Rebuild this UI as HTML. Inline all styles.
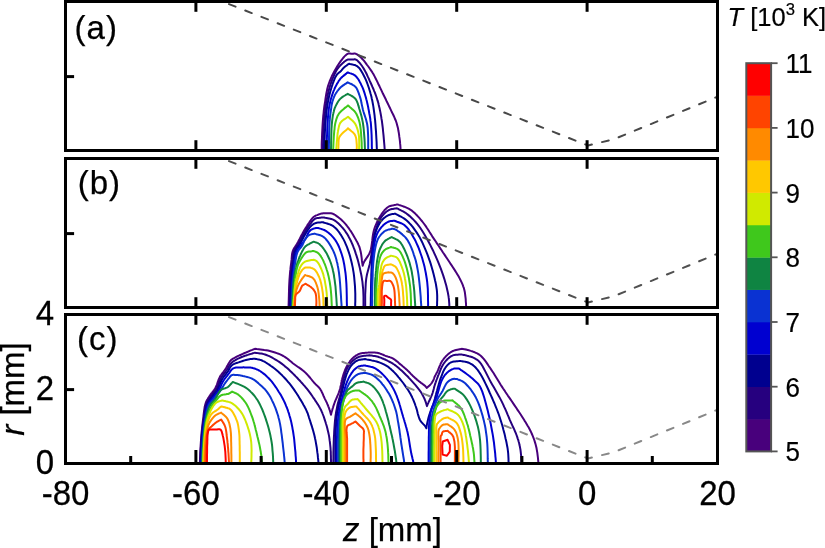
<!DOCTYPE html>
<html><head><meta charset="utf-8"><style>html,body{margin:0;padding:0;background:#fff;width:825px;height:548px;overflow:hidden}svg{display:block}</style></head>
<body>
<svg width="825" height="548" viewBox="0 0 825 548">
<defs>
<clipPath id="cp0"><rect x="65.5" y="1.5" width="652.0" height="149.0"/></clipPath>
<clipPath id="cp1"><rect x="65.5" y="158.5" width="652.0" height="149.0"/></clipPath>
<clipPath id="cp2"><rect x="65.5" y="314.5" width="652.0" height="149.0"/></clipPath>
</defs>
<rect width="825" height="548" fill="#fff"/>
<g clip-path="url(#cp0)" fill="none" stroke-width="2" stroke-linejoin="round">
<path stroke="#48007c" d="M321.6,153.5 L400.6,153.5 L400.6,154.7 L400.6,154.2 L400.6,153.6 L400.6,153.1 L400.6,152.5 L400.6,151.9 L400.6,151.2 L400.6,150.5 L400.5,149.3 L400.5,147.9 L400.4,146.5 L400.3,145.0 L400.1,143.4 L400.0,141.8 L399.8,140.2 L399.6,138.6 L399.3,136.7 L399.1,134.8 L398.8,132.8 L398.4,130.8 L398.1,128.8 L397.6,126.8 L397.1,124.9 L396.6,123.0 L396.0,121.2 L395.3,119.5 L394.6,117.8 L393.9,116.2 L393.1,114.5 L392.2,112.8 L391.4,111.1 L390.6,109.4 L389.7,107.5 L388.8,105.6 L387.9,103.7 L386.9,101.8 L386.0,99.8 L385.0,97.8 L384.0,95.8 L383.0,93.8 L381.9,91.4 L380.7,88.9 L379.5,86.3 L378.2,83.7 L377.0,81.1 L375.8,78.7 L374.6,76.4 L373.5,74.3 L372.7,73.0 L372.0,71.8 L371.2,70.7 L370.5,69.6 L369.7,68.5 L369.0,67.5 L368.3,66.5 L367.5,65.5 L366.8,64.6 L366.1,63.6 L365.4,62.7 L364.8,61.8 L364.1,60.9 L363.4,60.1 L362.6,59.3 L361.9,58.5 L361.2,57.8 L360.4,57.1 L359.7,56.4 L358.9,55.7 L358.1,55.1 L357.4,54.6 L356.6,54.1 L355.9,53.8 L355.4,53.7 L354.9,53.6 L354.4,53.6 L353.9,53.6 L353.4,53.7 L353.0,53.7 L352.5,53.8 L352.0,53.8 L351.5,53.8 L350.9,53.7 L350.4,53.6 L349.9,53.5 L349.4,53.5 L348.8,53.5 L348.3,53.6 L347.7,53.8 L346.6,54.4 L345.5,55.4 L344.3,56.6 L343.1,58.0 L341.9,59.6 L340.7,61.2 L339.5,62.9 L338.4,64.5 L337.1,66.6 L335.7,68.9 L334.4,71.3 L333.1,73.8 L331.8,76.3 L330.7,78.9 L329.6,81.5 L328.7,84.0 L327.9,86.4 L327.3,88.8 L326.8,91.2 L326.3,93.7 L325.9,96.1 L325.5,98.6 L325.2,101.1 L324.8,103.5 L324.4,105.9 L324.1,108.3 L323.8,110.7 L323.6,113.0 L323.3,115.4 L323.1,117.9 L322.9,120.4 L322.7,123.0 L322.5,126.4 L322.3,130.1 L322.1,134.0 L322.0,137.9 L321.8,141.6 L321.7,145.1 L321.7,148.1 L321.6,150.5 L321.6,151.3 L321.6,152.0 L321.6,152.6 L321.6,153.2 L321.6,153.7 L321.6,154.2 L321.6,154.8 L321.6,153.5Z"/>
<path stroke="#26007f" d="M322.9,153.5 L384.7,153.5 L384.7,154.5 L384.7,154.0 L384.7,153.5 L384.7,153.0 L384.7,152.5 L384.7,151.9 L384.7,151.2 L384.7,150.5 L384.6,148.3 L384.4,145.5 L384.1,142.2 L383.8,138.7 L383.5,135.1 L383.1,131.5 L382.8,128.1 L382.4,125.0 L382.1,122.7 L381.8,120.4 L381.4,118.2 L381.1,116.1 L380.7,114.0 L380.3,111.9 L379.9,110.0 L379.5,108.0 L379.1,106.4 L378.7,104.8 L378.4,103.3 L378.0,101.9 L377.5,100.4 L377.1,99.0 L376.6,97.5 L376.1,96.0 L375.5,94.4 L374.9,92.7 L374.2,91.1 L373.6,89.5 L372.8,87.8 L372.1,86.2 L371.4,84.5 L370.6,82.8 L369.7,80.9 L368.9,78.9 L367.9,76.9 L367.0,74.8 L366.0,72.8 L365.0,70.9 L364.0,69.1 L363.0,67.5 L362.2,66.3 L361.3,65.0 L360.4,63.8 L359.5,62.7 L358.5,61.7 L357.6,60.8 L356.8,60.1 L355.9,59.6 L355.4,59.4 L354.9,59.3 L354.4,59.3 L353.9,59.4 L353.4,59.4 L353.0,59.5 L352.5,59.6 L352.0,59.6 L351.5,59.6 L350.9,59.5 L350.4,59.5 L349.9,59.4 L349.3,59.4 L348.8,59.4 L348.2,59.5 L347.7,59.6 L347.0,59.9 L346.3,60.3 L345.6,60.7 L344.9,61.3 L344.2,61.8 L343.5,62.5 L342.8,63.1 L342.1,63.7 L341.4,64.4 L340.7,65.0 L340.1,65.7 L339.4,66.4 L338.8,67.2 L338.1,68.0 L337.5,68.8 L336.9,69.8 L336.0,71.3 L335.1,73.0 L334.2,74.9 L333.4,76.8 L332.5,78.8 L331.7,80.9 L331.0,83.0 L330.3,85.0 L329.6,87.2 L329.0,89.4 L328.4,91.7 L327.9,94.1 L327.5,96.4 L327.0,98.8 L326.6,101.1 L326.2,103.5 L325.8,105.9 L325.5,108.2 L325.2,110.6 L325.0,113.0 L324.7,115.4 L324.5,117.9 L324.3,120.4 L324.1,123.0 L323.9,126.4 L323.7,130.1 L323.5,134.0 L323.3,137.9 L323.2,141.7 L323.0,145.1 L323.0,148.1 L322.9,150.5 L322.9,151.3 L322.9,151.9 L322.9,152.5 L322.9,153.0 L322.9,153.5 L322.9,154.0 L322.9,154.5 L322.9,153.5Z"/>
<path stroke="#00008f" d="M324.2,153.5 L376.9,153.5 L376.9,154.3 L376.9,153.8 L376.9,153.4 L376.9,152.9 L376.9,152.4 L376.9,151.8 L376.9,151.2 L376.9,150.5 L376.8,148.3 L376.7,145.5 L376.6,142.3 L376.4,138.8 L376.2,135.2 L376.0,131.6 L375.7,128.1 L375.5,125.0 L375.3,122.6 L375.1,120.2 L374.8,117.8 L374.6,115.6 L374.3,113.3 L374.0,111.1 L373.7,109.0 L373.4,106.9 L373.1,105.2 L372.8,103.5 L372.5,101.9 L372.2,100.3 L371.8,98.7 L371.5,97.1 L371.1,95.5 L370.6,93.8 L370.1,91.9 L369.5,90.0 L368.9,88.0 L368.2,86.0 L367.5,84.0 L366.8,82.1 L366.0,80.2 L365.2,78.4 L364.4,76.7 L363.5,75.0 L362.6,73.3 L361.7,71.7 L360.7,70.1 L359.7,68.7 L358.6,67.4 L357.5,66.4 L356.5,65.8 L355.5,65.3 L354.5,64.9 L353.4,64.7 L352.3,64.4 L351.2,64.2 L350.1,64.0 L349.0,63.7 L348.4,64.2 L347.7,64.6 L347.1,65.1 L346.4,65.6 L345.8,66.0 L345.2,66.5 L344.6,67.0 L344.0,67.5 L343.5,68.0 L343.1,68.4 L342.7,68.9 L342.3,69.4 L341.9,69.9 L341.5,70.4 L341.1,70.8 L340.7,71.3 L340.2,71.7 L339.8,72.1 L339.3,72.4 L338.8,72.8 L338.3,73.2 L337.8,73.6 L337.4,74.0 L336.9,74.6 L336.2,75.7 L335.5,76.9 L334.8,78.3 L334.2,79.9 L333.6,81.5 L332.9,83.1 L332.4,84.8 L331.8,86.5 L331.2,88.5 L330.6,90.6 L330.0,92.7 L329.4,95.0 L328.9,97.2 L328.5,99.5 L328.0,101.7 L327.6,104.0 L327.2,106.3 L326.9,108.6 L326.6,110.9 L326.4,113.2 L326.1,115.6 L325.9,118.0 L325.7,120.4 L325.5,123.0 L325.3,126.4 L325.0,130.1 L324.8,134.0 L324.7,137.9 L324.5,141.7 L324.4,145.2 L324.3,148.2 L324.2,150.5 L324.2,151.2 L324.2,151.8 L324.2,152.4 L324.2,152.9 L324.2,153.4 L324.2,153.8 L324.2,154.3 L324.2,153.5Z"/>
<path stroke="#0000d0" d="M326.6,153.5 L371.9,153.5 L371.9,153.9 L371.9,153.5 L371.9,153.1 L371.9,152.7 L371.9,152.2 L371.9,151.7 L371.9,151.2 L371.9,150.5 L371.9,148.3 L371.8,145.5 L371.8,142.3 L371.7,138.7 L371.6,135.0 L371.4,131.4 L371.2,128.0 L371.0,125.0 L370.8,122.9 L370.5,120.9 L370.3,119.0 L370.0,117.1 L369.7,115.3 L369.3,113.5 L369.0,111.7 L368.7,110.0 L368.4,108.6 L368.2,107.2 L367.9,105.9 L367.6,104.5 L367.3,103.2 L367.0,101.9 L366.7,100.6 L366.3,99.2 L365.9,97.6 L365.4,96.0 L364.9,94.3 L364.4,92.6 L363.8,90.9 L363.2,89.2 L362.6,87.6 L361.9,86.1 L361.2,84.7 L360.5,83.2 L359.7,81.8 L358.9,80.3 L358.1,79.0 L357.2,77.8 L356.3,76.7 L355.3,75.7 L354.4,75.1 L353.5,74.5 L352.6,74.1 L351.6,73.8 L350.6,73.4 L349.6,73.1 L348.7,72.8 L347.7,72.4 L346.8,73.1 L345.9,73.9 L345.0,74.6 L344.0,75.4 L343.1,76.1 L342.3,76.9 L341.4,77.6 L340.7,78.4 L340.1,79.1 L339.6,79.8 L339.1,80.4 L338.6,81.1 L338.2,81.9 L337.8,82.6 L337.3,83.3 L336.9,84.1 L336.4,85.0 L335.9,85.9 L335.4,86.8 L335.0,87.8 L334.5,88.8 L334.1,89.8 L333.6,90.9 L333.2,92.0 L332.7,93.4 L332.2,94.9 L331.7,96.5 L331.2,98.1 L330.7,99.8 L330.3,101.5 L329.9,103.2 L329.5,105.0 L329.1,107.1 L328.8,109.2 L328.6,111.3 L328.3,113.6 L328.1,115.8 L327.9,118.2 L327.8,120.5 L327.6,123.0 L327.4,126.3 L327.2,130.0 L327.1,134.0 L326.9,137.9 L326.8,141.8 L326.7,145.2 L326.6,148.2 L326.6,150.5 L326.6,151.2 L326.6,151.7 L326.6,152.2 L326.6,152.7 L326.6,153.1 L326.6,153.5 L326.6,153.9 L326.6,153.5Z"/>
<path stroke="#0a32d2" d="M328.9,153.5 L368.2,153.5 L368.2,153.5 L368.2,153.1 L368.2,152.8 L368.2,152.4 L368.2,152.0 L368.2,151.6 L368.2,151.1 L368.2,150.5 L368.2,148.4 L368.2,145.6 L368.2,142.4 L368.2,138.8 L368.1,135.1 L367.9,131.4 L367.7,128.0 L367.3,125.0 L366.9,122.9 L366.4,120.9 L365.9,119.0 L365.3,117.2 L364.7,115.4 L364.1,113.6 L363.5,111.8 L363.0,110.0 L362.6,108.2 L362.2,106.4 L361.8,104.6 L361.4,102.8 L361.1,101.0 L360.7,99.3 L360.2,97.6 L359.7,96.0 L359.2,94.7 L358.8,93.4 L358.3,92.1 L357.8,90.9 L357.3,89.7 L356.7,88.6 L356.1,87.6 L355.3,86.7 L354.5,86.0 L353.6,85.3 L352.7,84.8 L351.7,84.2 L350.7,83.8 L349.7,83.3 L348.7,82.8 L347.7,82.3 L346.8,82.9 L345.9,83.6 L344.9,84.2 L344.0,84.8 L343.1,85.4 L342.2,86.1 L341.3,86.8 L340.5,87.5 L339.8,88.2 L339.1,89.0 L338.4,89.8 L337.8,90.6 L337.1,91.4 L336.6,92.3 L336.0,93.1 L335.5,94.0 L335.0,94.8 L334.6,95.7 L334.2,96.5 L333.9,97.4 L333.5,98.3 L333.2,99.2 L332.9,100.1 L332.6,101.0 L332.3,102.0 L332.1,103.1 L331.8,104.2 L331.6,105.3 L331.4,106.4 L331.3,107.6 L331.1,108.8 L330.9,110.0 L330.7,111.5 L330.5,113.0 L330.3,114.5 L330.1,116.0 L329.9,117.7 L329.8,119.4 L329.6,121.1 L329.5,123.0 L329.3,126.1 L329.2,129.8 L329.1,133.7 L329.0,137.8 L329.0,141.7 L328.9,145.2 L328.9,148.3 L328.9,150.5 L328.9,151.1 L328.9,151.6 L328.9,152.0 L328.9,152.4 L328.9,152.8 L328.9,153.1 L328.9,153.5 L328.9,153.5Z"/>
<path stroke="#0f8442" d="M331.0,153.5 L365.0,153.5 L365.0,153.0 L365.0,152.7 L365.0,152.4 L365.0,152.1 L365.0,151.8 L365.0,151.4 L365.0,151.0 L365.0,150.5 L364.9,148.5 L364.8,145.8 L364.7,142.5 L364.5,138.9 L364.2,135.2 L363.9,131.5 L363.6,128.0 L363.2,125.0 L362.9,122.9 L362.5,120.9 L362.1,119.0 L361.7,117.1 L361.2,115.3 L360.7,113.5 L360.2,111.7 L359.7,110.0 L359.2,108.5 L358.8,106.9 L358.3,105.4 L357.9,103.9 L357.3,102.4 L356.8,101.1 L356.1,99.8 L355.3,98.7 L354.5,97.9 L353.6,97.2 L352.7,96.5 L351.7,96.0 L350.7,95.4 L349.7,94.9 L348.7,94.4 L347.7,93.8 L346.8,94.4 L345.8,94.9 L344.9,95.5 L344.0,96.0 L343.0,96.6 L342.1,97.2 L341.3,97.9 L340.5,98.6 L339.7,99.4 L339.0,100.3 L338.3,101.3 L337.7,102.3 L337.1,103.3 L336.5,104.4 L336.0,105.4 L335.5,106.4 L335.1,107.3 L334.7,108.2 L334.4,109.1 L334.1,110.1 L333.9,111.0 L333.7,112.0 L333.4,113.0 L333.2,114.0 L332.9,115.3 L332.7,116.7 L332.5,118.1 L332.3,119.6 L332.1,121.1 L332.0,122.6 L331.8,124.3 L331.7,126.0 L331.5,128.8 L331.4,132.1 L331.3,135.6 L331.2,139.2 L331.1,142.7 L331.1,145.9 L331.0,148.5 L331.0,150.5 L331.0,151.0 L331.0,151.4 L331.0,151.8 L331.0,152.1 L331.0,152.4 L331.0,152.7 L331.0,153.0 L331.0,153.5Z"/>
<path stroke="#3fc81c" d="M333.2,153.5 L361.8,153.5 L361.8,152.5 L361.8,152.2 L361.8,152.0 L361.8,151.7 L361.8,151.5 L361.8,151.2 L361.8,150.9 L361.8,150.5 L361.8,149.6 L361.8,148.5 L361.8,147.2 L361.7,145.9 L361.7,144.5 L361.7,143.0 L361.6,141.5 L361.5,140.0 L361.4,138.0 L361.2,135.9 L361.1,133.8 L360.9,131.5 L360.7,129.3 L360.4,127.1 L360.1,125.0 L359.7,123.1 L359.3,121.6 L358.9,120.2 L358.5,118.9 L358.0,117.5 L357.5,116.3 L356.9,115.0 L356.3,113.8 L355.6,112.7 L354.8,111.7 L354.0,110.7 L353.0,109.8 L352.0,108.9 L351.0,108.0 L350.0,107.2 L349.0,106.3 L348.0,105.4 L346.8,106.4 L345.6,107.4 L344.3,108.4 L343.1,109.5 L341.9,110.5 L340.8,111.5 L339.8,112.6 L338.9,113.7 L338.3,114.7 L337.7,115.7 L337.3,116.7 L336.9,117.7 L336.5,118.8 L336.2,119.8 L335.9,120.9 L335.6,122.0 L335.3,123.2 L335.1,124.3 L334.9,125.5 L334.7,126.7 L334.6,128.0 L334.5,129.3 L334.3,130.6 L334.2,132.0 L334.0,134.2 L333.8,136.6 L333.7,139.3 L333.5,142.0 L333.4,144.6 L333.3,147.0 L333.2,149.0 L333.2,150.5 L333.2,150.9 L333.2,151.2 L333.2,151.5 L333.2,151.8 L333.2,152.0 L333.2,152.2 L333.2,152.5 L333.2,153.5Z"/>
<path stroke="#d0ea00" d="M336.2,153.5 L359.1,153.5 L359.1,152.0 L359.1,151.8 L359.1,151.6 L359.1,151.4 L359.1,151.3 L359.1,151.0 L359.1,150.8 L359.1,150.5 L359.1,149.3 L359.1,147.6 L359.2,145.5 L359.2,143.3 L359.2,141.0 L359.1,138.6 L359.0,136.4 L358.7,134.5 L358.4,133.0 L358.1,131.5 L357.7,130.1 L357.3,128.7 L356.8,127.3 L356.3,126.0 L355.7,124.8 L355.0,123.6 L354.3,122.6 L353.5,121.7 L352.6,120.8 L351.7,120.0 L350.8,119.2 L349.8,118.4 L348.9,117.6 L348.0,116.8 L347.0,117.5 L346.0,118.2 L345.0,118.9 L343.9,119.5 L342.9,120.2 L342.0,121.0 L341.2,121.8 L340.5,122.6 L340.0,123.4 L339.6,124.3 L339.3,125.2 L339.0,126.1 L338.8,127.1 L338.6,128.1 L338.4,129.0 L338.2,130.0 L338.0,131.0 L337.9,131.9 L337.7,132.9 L337.6,133.9 L337.5,134.8 L337.4,135.9 L337.3,136.9 L337.2,138.0 L337.1,139.5 L336.9,141.2 L336.7,143.0 L336.6,144.8 L336.5,146.5 L336.3,148.1 L336.3,149.5 L336.2,150.5 L336.2,150.8 L336.2,151.0 L336.2,151.2 L336.2,151.4 L336.2,151.6 L336.2,151.8 L336.2,152.0 L336.2,153.5Z"/>
<path stroke="#ffc800" d="M338.3,153.5 L356.6,153.5 L356.6,151.5 L356.6,151.4 L356.6,151.2 L356.6,151.1 L356.6,151.0 L356.6,150.8 L356.6,150.7 L356.6,150.5 L356.6,150.0 L356.7,149.5 L356.7,148.8 L356.8,148.1 L356.8,147.4 L356.8,146.6 L356.8,145.8 L356.8,145.0 L356.7,143.9 L356.6,142.6 L356.5,141.3 L356.4,140.0 L356.2,138.6 L355.9,137.3 L355.5,136.1 L355.0,135.0 L354.4,134.0 L353.6,133.1 L352.8,132.3 L351.8,131.5 L350.9,130.7 L349.9,129.9 L348.9,129.1 L348.0,128.3 L346.9,129.4 L345.7,130.5 L344.4,131.5 L343.2,132.6 L342.0,133.7 L341.0,134.8 L340.1,135.9 L339.4,137.1 L339.0,138.1 L338.8,139.1 L338.6,140.1 L338.6,141.1 L338.5,142.1 L338.5,143.1 L338.5,144.1 L338.5,145.0 L338.4,145.8 L338.4,146.5 L338.4,147.3 L338.4,148.1 L338.3,148.8 L338.3,149.4 L338.3,150.0 L338.3,150.5 L338.3,150.7 L338.3,150.8 L338.3,151.0 L338.3,151.1 L338.3,151.2 L338.3,151.4 L338.3,151.5 L338.3,153.5Z"/>
</g>
<g clip-path="url(#cp1)" fill="none" stroke-width="2" stroke-linejoin="round">
<path stroke="#48007c" d="M367.0,310.5 L367.0,311.6 L367.0,311.1 L367.0,310.6 L367.0,310.5 L466.2,310.5 L466.2,312.0 L466.2,311.4 L466.2,310.9 L466.2,310.3 L466.3,309.7 L466.3,309.0 L466.2,308.3 L466.2,307.5 L466.1,305.8 L466.0,303.7 L465.8,301.5 L465.7,299.1 L465.4,296.6 L465.1,294.2 L464.8,291.9 L464.3,289.8 L463.9,288.2 L463.3,286.6 L462.8,285.1 L462.2,283.7 L461.5,282.2 L460.9,280.9 L460.2,279.5 L459.5,278.1 L458.8,276.8 L458.1,275.6 L457.4,274.4 L456.7,273.2 L455.9,272.0 L455.2,270.9 L454.4,269.6 L453.6,268.4 L452.7,267.0 L451.8,265.6 L450.8,264.2 L449.9,262.7 L448.9,261.2 L447.9,259.7 L446.9,258.2 L445.8,256.6 L444.5,254.6 L443.0,252.5 L441.6,250.3 L440.1,248.1 L438.6,245.8 L437.1,243.6 L435.6,241.3 L434.1,239.1 L432.6,236.9 L431.2,234.6 L429.7,232.3 L428.3,230.0 L426.8,227.8 L425.4,225.6 L423.8,223.5 L422.3,221.5 L420.9,219.8 L419.5,218.2 L418.1,216.6 L416.6,215.0 L415.2,213.6 L413.7,212.2 L412.2,210.9 L410.6,209.8 L409.1,208.9 L407.5,208.1 L405.9,207.4 L404.2,206.7 L402.6,206.1 L401.2,205.6 L399.9,205.2 L398.9,204.9 L398.6,204.8 L398.3,204.7 L398.1,204.7 L397.9,204.6 L397.6,204.6 L397.4,204.5 L397.2,204.5 L397.0,204.4 L395.9,204.7 L394.7,204.9 L393.6,205.2 L392.4,205.4 L391.3,205.7 L390.2,206.0 L389.1,206.4 L388.1,207.0 L387.0,207.8 L386.0,208.7 L384.9,209.7 L384.0,210.9 L383.0,212.1 L382.1,213.3 L381.3,214.6 L380.4,215.9 L379.5,217.4 L378.5,219.0 L377.7,220.7 L376.9,222.5 L376.1,224.3 L375.3,226.1 L374.6,228.0 L374.0,230.0 L373.4,232.5 L372.9,235.2 L372.5,238.0 L372.2,240.9 L371.8,243.8 L371.4,246.6 L370.9,249.3 L370.2,251.7 L369.4,253.5 L368.5,255.1 L367.5,256.6 L366.5,258.1 L365.5,259.6 L364.5,261.1 L363.7,262.7 L363.0,264.5 L362.7,265.8 L362.5,264.7 L362.2,262.6 L361.9,260.4 L361.7,258.2 L361.4,256.0 L361.1,253.9 L360.7,251.8 L360.2,249.8 L359.7,247.9 L359.2,246.4 L358.5,244.9 L357.9,243.5 L357.2,242.1 L356.4,240.7 L355.7,239.4 L354.9,238.1 L354.1,236.7 L353.3,235.3 L352.4,233.8 L351.5,232.3 L350.6,230.9 L349.6,229.5 L348.7,228.1 L347.7,226.8 L346.7,225.5 L345.8,224.4 L344.9,223.4 L344.0,222.4 L343.0,221.4 L342.1,220.5 L341.1,219.6 L340.2,218.8 L339.2,218.0 L338.3,217.3 L337.4,216.6 L336.4,215.9 L335.5,215.2 L334.5,214.7 L333.6,214.1 L332.7,213.7 L331.8,213.4 L331.2,213.3 L330.6,213.2 L330.0,213.2 L329.4,213.2 L328.8,213.2 L328.2,213.3 L327.6,213.3 L327.0,213.3 L326.4,213.3 L325.9,213.3 L325.3,213.3 L324.7,213.3 L324.1,213.3 L323.6,213.3 L323.0,213.3 L322.5,213.4 L322.1,213.5 L321.6,213.5 L321.2,213.6 L320.8,213.7 L320.4,213.9 L320.0,214.0 L319.6,214.1 L319.1,214.3 L318.5,214.5 L317.8,214.8 L317.1,215.1 L316.3,215.4 L315.6,215.7 L314.9,216.1 L314.2,216.5 L313.6,217.0 L313.0,217.5 L312.4,218.1 L311.8,218.8 L311.3,219.5 L310.8,220.2 L310.3,221.0 L309.7,221.7 L309.2,222.5 L308.5,223.5 L307.8,224.5 L307.2,225.6 L306.5,226.7 L305.8,227.8 L305.1,228.9 L304.4,230.1 L303.7,231.3 L302.9,232.7 L302.1,234.2 L301.2,235.8 L300.4,237.4 L299.6,239.0 L298.8,240.5 L298.0,242.0 L297.2,243.4 L296.6,244.4 L296.0,245.4 L295.4,246.3 L294.8,247.2 L294.2,248.1 L293.7,249.0 L293.2,250.0 L292.8,251.0 L292.5,252.1 L292.2,253.3 L292.0,254.4 L291.9,255.6 L291.8,256.8 L291.7,258.1 L291.6,259.4 L291.4,260.8 L291.2,262.8 L290.9,264.9 L290.6,267.1 L290.4,269.4 L290.1,271.8 L289.9,274.3 L289.7,276.8 L289.5,279.3 L289.3,282.7 L289.1,286.5 L289.0,290.5 L288.9,294.5 L288.8,298.4 L288.7,302.0 L288.6,305.1 L288.6,307.5 L288.6,308.3 L288.6,309.0 L288.6,309.6 L288.6,310.1 L288.6,310.6 L288.6,311.1 L288.6,311.6 L288.6,310.5 L359.0,310.5 L359.0,310.9 L359.0,311.5 L359.0,312.0 L359.0,310.5 L367.0,310.5Z"/>
<path stroke="#26007f" d="M449.4,310.5 L449.4,311.9 L449.4,311.3 L449.4,310.7 L449.4,310.1 L449.4,309.5 L449.4,308.9 L449.4,308.2 L449.4,307.5 L449.4,306.4 L449.3,305.3 L449.3,304.1 L449.2,302.9 L449.1,301.6 L449.0,300.3 L448.9,299.0 L448.7,297.7 L448.5,296.1 L448.2,294.5 L447.9,292.8 L447.5,291.1 L447.1,289.3 L446.7,287.6 L446.3,285.8 L445.8,284.0 L445.2,281.9 L444.6,279.8 L443.9,277.6 L443.2,275.4 L442.4,273.2 L441.6,270.9 L440.8,268.7 L439.9,266.4 L438.9,263.8 L437.8,261.1 L436.6,258.4 L435.4,255.7 L434.1,252.9 L432.9,250.2 L431.5,247.5 L430.2,244.9 L428.8,242.3 L427.5,239.8 L426.0,237.2 L424.6,234.7 L423.1,232.2 L421.5,229.8 L420.0,227.5 L418.4,225.4 L417.0,223.7 L415.6,222.0 L414.1,220.4 L412.7,218.9 L411.2,217.5 L409.7,216.1 L408.2,214.9 L406.7,213.7 L405.5,212.8 L404.3,212.1 L403.1,211.4 L401.9,210.8 L400.6,210.2 L399.4,209.6 L398.2,208.9 L397.0,208.3 L396.0,208.5 L395.0,208.6 L393.9,208.7 L392.9,208.9 L391.9,209.0 L390.9,209.3 L389.9,209.6 L389.0,210.0 L388.0,210.6 L387.0,211.3 L386.0,212.0 L385.0,212.9 L384.1,213.8 L383.2,214.8 L382.3,215.9 L381.5,217.0 L380.5,218.5 L379.6,220.2 L378.7,222.0 L377.9,223.9 L377.2,225.9 L376.5,228.0 L375.8,230.0 L375.2,232.0 L374.6,234.2 L374.2,236.4 L373.8,238.7 L373.5,241.0 L373.2,243.3 L372.9,245.6 L372.5,247.8 L372.2,250.0 L371.9,252.0 L371.5,253.9 L371.2,255.8 L370.9,257.7 L370.6,259.6 L370.2,261.4 L369.9,263.2 L369.5,265.0 L369.1,266.6 L368.7,268.1 L368.3,269.6 L367.9,271.0 L367.5,272.5 L367.1,274.0 L366.8,275.5 L366.5,277.1 L366.2,278.9 L366.0,280.8 L365.8,282.8 L365.7,284.7 L365.6,286.7 L365.5,288.7 L365.4,290.7 L365.3,292.6 L365.2,294.5 L365.2,296.5 L365.2,298.6 L365.2,300.6 L365.2,302.5 L365.2,304.3 L365.2,306.0 L365.2,307.5 L365.2,308.2 L365.2,308.9 L365.2,309.6 L365.2,310.1 L365.2,310.7 L365.2,311.3 L365.2,311.9 L365.2,310.5 L449.4,310.5Z"/>
<path stroke="#26007f" d="M363.5,310.5 L363.5,311.5 L363.5,310.9 L363.5,310.4 L363.5,309.9 L363.5,309.4 L363.5,308.8 L363.5,308.2 L363.5,307.5 L363.5,305.8 L363.5,303.8 L363.5,301.6 L363.5,299.2 L363.5,296.7 L363.4,294.2 L363.3,291.8 L363.2,289.5 L363.0,287.5 L362.8,285.6 L362.6,283.7 L362.4,281.7 L362.1,279.8 L361.8,277.9 L361.5,276.0 L361.1,274.0 L360.6,271.7 L360.1,269.4 L359.6,267.0 L359.0,264.7 L358.4,262.3 L357.8,259.9 L357.1,257.6 L356.4,255.4 L355.7,253.4 L355.1,251.4 L354.4,249.4 L353.6,247.4 L352.9,245.5 L352.1,243.6 L351.3,241.8 L350.4,240.0 L349.6,238.4 L348.7,236.8 L347.9,235.3 L347.0,233.8 L346.0,232.4 L345.1,231.0 L344.1,229.6 L343.0,228.3 L341.9,227.1 L340.8,225.9 L339.7,224.7 L338.5,223.6 L337.3,222.5 L336.1,221.5 L334.9,220.6 L333.6,219.9 L332.5,219.4 L331.3,219.0 L330.1,218.7 L328.9,218.4 L327.7,218.2 L326.4,218.0 L325.2,217.8 L324.0,217.5 L323.4,217.5 L322.9,217.6 L322.3,217.6 L321.7,217.6 L321.2,217.6 L320.6,217.7 L320.1,217.7 L319.5,217.8 L318.9,217.9 L318.4,217.9 L317.8,218.0 L317.2,218.1 L316.6,218.2 L316.1,218.3 L315.5,218.5 L315.0,218.8 L314.4,219.2 L313.8,219.7 L313.2,220.2 L312.7,220.8 L312.1,221.4 L311.6,222.1 L311.1,222.8 L310.5,223.5 L309.8,224.4 L309.1,225.3 L308.4,226.3 L307.8,227.4 L307.1,228.4 L306.4,229.5 L305.7,230.7 L305.0,231.8 L304.2,233.2 L303.4,234.7 L302.5,236.2 L301.7,237.7 L300.9,239.3 L300.0,240.8 L299.3,242.2 L298.5,243.6 L297.9,244.6 L297.3,245.5 L296.7,246.4 L296.1,247.3 L295.5,248.2 L295.0,249.1 L294.5,250.0 L294.1,251.0 L293.8,252.1 L293.5,253.2 L293.3,254.4 L293.1,255.6 L293.0,256.8 L292.9,258.1 L292.8,259.4 L292.6,260.8 L292.3,262.8 L292.1,264.9 L291.8,267.1 L291.5,269.4 L291.3,271.8 L291.0,274.3 L290.8,276.8 L290.6,279.3 L290.4,282.7 L290.2,286.5 L290.0,290.5 L289.9,294.5 L289.8,298.4 L289.7,302.0 L289.6,305.1 L289.6,307.5 L289.6,308.2 L289.6,308.9 L289.6,309.5 L289.6,310.0 L289.6,310.5 L289.6,311.0 L289.6,311.5 L289.6,310.5 L363.5,310.5Z"/>
<path stroke="#00008f" d="M437.0,310.5 L437.0,310.0 L437.0,309.5 L437.0,308.9 L437.0,308.2 L437.0,307.5 L437.0,306.0 L437.1,304.2 L437.1,302.3 L437.2,300.2 L437.2,298.1 L437.2,295.9 L437.1,293.8 L437.0,291.8 L436.8,289.9 L436.5,287.9 L436.2,286.0 L435.9,284.1 L435.5,282.2 L435.0,280.2 L434.6,278.2 L434.1,276.2 L433.5,273.8 L432.9,271.4 L432.2,269.0 L431.5,266.5 L430.8,264.1 L430.0,261.6 L429.1,259.1 L428.2,256.6 L427.2,253.9 L426.1,251.2 L424.9,248.4 L423.7,245.6 L422.5,242.9 L421.2,240.2 L419.8,237.6 L418.4,235.2 L417.1,233.1 L415.7,231.1 L414.3,229.1 L412.9,227.1 L411.4,225.3 L409.8,223.6 L408.3,222.0 L406.7,220.5 L405.3,219.4 L403.9,218.4 L402.4,217.5 L401.0,216.7 L399.5,216.0 L398.0,215.2 L396.5,214.4 L395.0,213.6 L394.2,213.8 L393.5,213.9 L392.7,214.0 L392.0,214.1 L391.2,214.3 L390.5,214.5 L389.7,214.7 L389.0,215.0 L388.1,215.4 L387.2,215.9 L386.3,216.4 L385.4,217.0 L384.5,217.7 L383.6,218.4 L382.8,219.2 L382.0,220.0 L381.0,221.2 L380.1,222.5 L379.2,224.0 L378.4,225.5 L377.6,227.1 L376.8,228.8 L376.2,230.4 L375.6,232.0 L375.1,233.6 L374.7,235.1 L374.4,236.7 L374.1,238.4 L373.9,240.0 L373.7,241.7 L373.5,243.3 L373.3,245.0 L373.1,246.8 L372.9,248.6 L372.7,250.4 L372.5,252.3 L372.3,254.2 L372.2,256.1 L372.0,258.0 L371.9,260.0 L371.8,262.3 L371.7,264.7 L371.6,267.1 L371.5,269.6 L371.4,272.1 L371.3,274.7 L371.3,277.3 L371.2,280.0 L371.1,283.4 L371.0,287.1 L371.0,291.0 L370.9,294.9 L370.8,298.7 L370.8,302.1 L370.7,305.1 L370.7,307.5 L370.7,308.3 L370.7,308.9 L370.7,309.5 L370.7,310.1 L370.7,310.6 L370.7,311.1 L370.7,311.6 L370.7,310.5 L437.0,310.5Z"/>
<path stroke="#00008f" d="M355.2,310.5 L355.2,311.3 L355.2,310.8 L355.2,310.3 L355.2,309.8 L355.2,309.3 L355.2,308.8 L355.2,308.2 L355.2,307.5 L355.2,305.8 L355.2,303.8 L355.3,301.5 L355.3,299.0 L355.3,296.4 L355.3,293.9 L355.2,291.3 L355.1,288.9 L355.0,286.6 L354.8,284.2 L354.6,281.9 L354.4,279.6 L354.2,277.3 L353.9,274.9 L353.6,272.6 L353.2,270.3 L352.8,267.9 L352.3,265.6 L351.8,263.2 L351.2,260.8 L350.6,258.4 L350.0,256.1 L349.3,253.8 L348.6,251.6 L347.9,249.6 L347.2,247.6 L346.4,245.7 L345.6,243.8 L344.8,241.9 L343.9,240.1 L343.0,238.4 L342.0,236.7 L341.1,235.2 L340.1,233.8 L339.2,232.4 L338.1,231.0 L337.1,229.7 L336.0,228.5 L334.8,227.4 L333.6,226.4 L332.4,225.6 L331.1,225.0 L329.8,224.4 L328.5,224.0 L327.1,223.5 L325.7,223.1 L324.3,222.7 L323.0,222.2 L322.1,222.3 L321.2,222.3 L320.3,222.4 L319.4,222.5 L318.5,222.5 L317.6,222.6 L316.8,222.8 L316.0,223.0 L315.4,223.2 L314.8,223.4 L314.2,223.7 L313.6,224.0 L313.1,224.3 L312.6,224.7 L312.0,225.1 L311.5,225.5 L310.8,226.2 L310.1,226.9 L309.5,227.7 L308.9,228.6 L308.2,229.5 L307.6,230.5 L306.9,231.5 L306.3,232.5 L305.5,233.8 L304.7,235.2 L303.8,236.7 L303.0,238.2 L302.2,239.8 L301.4,241.3 L300.6,242.7 L299.8,244.0 L299.2,245.0 L298.6,245.8 L297.9,246.7 L297.3,247.5 L296.7,248.3 L296.2,249.2 L295.7,250.0 L295.3,251.0 L294.9,252.1 L294.7,253.2 L294.4,254.4 L294.3,255.6 L294.1,256.8 L294.0,258.1 L293.9,259.4 L293.7,260.8 L293.4,262.8 L293.1,264.9 L292.9,267.1 L292.6,269.4 L292.3,271.8 L292.1,274.3 L291.8,276.8 L291.6,279.3 L291.4,282.7 L291.2,286.5 L291.0,290.5 L290.8,294.6 L290.7,298.5 L290.5,302.1 L290.5,305.1 L290.4,307.5 L290.4,308.2 L290.4,308.8 L290.4,309.4 L290.4,309.9 L290.4,310.3 L290.4,310.8 L290.4,311.3 L290.4,310.5 L355.2,310.5Z"/>
<path stroke="#0000d0" d="M428.1,310.5 L428.1,311.3 L428.1,310.8 L428.1,310.4 L428.1,309.9 L428.1,309.4 L428.1,308.8 L428.1,308.2 L428.1,307.5 L428.1,305.3 L428.1,302.6 L428.0,299.4 L428.0,296.0 L427.9,292.4 L427.8,288.8 L427.5,285.3 L427.2,282.0 L426.8,279.0 L426.3,276.0 L425.8,273.0 L425.2,270.1 L424.6,267.1 L423.9,264.2 L423.1,261.4 L422.3,258.6 L421.5,256.0 L420.6,253.5 L419.7,250.9 L418.8,248.4 L417.8,246.0 L416.7,243.6 L415.7,241.3 L414.5,239.1 L413.4,237.2 L412.3,235.2 L411.2,233.3 L410.0,231.5 L408.8,229.7 L407.5,228.1 L406.2,226.7 L404.8,225.4 L403.6,224.5 L402.4,223.8 L401.1,223.2 L399.8,222.7 L398.5,222.2 L397.1,221.7 L395.8,221.2 L394.5,220.7 L393.8,220.8 L393.1,220.8 L392.4,220.9 L391.7,220.9 L391.0,221.0 L390.4,221.1 L389.7,221.3 L389.0,221.5 L388.2,221.8 L387.5,222.2 L386.7,222.6 L385.9,223.1 L385.2,223.7 L384.4,224.2 L383.7,224.8 L383.0,225.5 L382.2,226.4 L381.3,227.3 L380.5,228.3 L379.7,229.4 L379.0,230.5 L378.2,231.6 L377.6,232.8 L377.0,234.0 L376.5,235.3 L376.0,236.6 L375.6,237.9 L375.3,239.2 L375.0,240.6 L374.7,242.1 L374.5,243.5 L374.2,245.0 L373.9,246.7 L373.7,248.5 L373.4,250.3 L373.2,252.2 L373.1,254.1 L372.9,256.0 L372.7,258.0 L372.6,260.0 L372.4,262.3 L372.3,264.7 L372.2,267.1 L372.1,269.6 L372.0,272.1 L371.9,274.7 L371.9,277.3 L371.8,280.0 L371.7,283.4 L371.6,287.1 L371.5,291.0 L371.5,295.0 L371.4,298.7 L371.4,302.2 L371.3,305.2 L371.3,307.5 L371.3,308.2 L371.3,308.8 L371.3,309.4 L371.3,309.9 L371.3,310.4 L371.3,310.8 L371.3,311.3 L371.3,310.5 L428.1,310.5Z"/>
<path stroke="#0000d0" d="M346.9,310.5 L346.9,311.0 L346.9,310.6 L346.9,310.2 L346.9,309.7 L346.9,309.3 L346.9,308.8 L346.9,308.2 L346.9,307.5 L346.9,304.9 L346.8,301.5 L346.8,297.5 L346.7,293.1 L346.6,288.5 L346.4,283.9 L346.1,279.6 L345.8,275.8 L345.5,273.0 L345.1,270.3 L344.7,267.6 L344.3,265.0 L343.8,262.5 L343.3,260.0 L342.7,257.6 L342.0,255.3 L341.4,253.3 L340.7,251.3 L340.0,249.3 L339.2,247.4 L338.4,245.5 L337.5,243.7 L336.5,242.0 L335.5,240.4 L334.5,239.0 L333.4,237.7 L332.3,236.4 L331.1,235.1 L329.9,234.0 L328.7,232.9 L327.4,232.0 L326.2,231.1 L325.2,230.5 L324.2,230.0 L323.2,229.6 L322.1,229.3 L321.1,228.9 L320.1,228.6 L319.0,228.3 L318.0,227.9 L317.4,228.0 L316.9,228.0 L316.3,228.1 L315.8,228.1 L315.2,228.2 L314.7,228.3 L314.1,228.4 L313.6,228.6 L313.1,228.8 L312.5,229.1 L312.0,229.3 L311.5,229.6 L310.9,229.9 L310.4,230.3 L310.0,230.7 L309.5,231.2 L308.9,232.0 L308.4,232.8 L307.9,233.8 L307.4,234.9 L306.9,236.0 L306.4,237.1 L305.9,238.1 L305.4,239.0 L304.9,239.7 L304.4,240.4 L303.9,241.1 L303.4,241.8 L302.9,242.4 L302.3,243.1 L301.8,243.8 L301.3,244.5 L300.7,245.3 L300.1,246.1 L299.4,247.0 L298.8,247.8 L298.2,248.7 L297.6,249.6 L297.1,250.5 L296.6,251.5 L296.2,252.6 L295.9,253.7 L295.6,254.8 L295.4,255.9 L295.2,257.1 L295.0,258.4 L294.8,259.7 L294.6,261.0 L294.3,262.9 L294.0,265.0 L293.7,267.1 L293.4,269.4 L293.1,271.7 L292.9,274.1 L292.6,276.5 L292.4,279.0 L292.1,282.4 L291.9,286.3 L291.7,290.3 L291.5,294.5 L291.3,298.4 L291.2,302.0 L291.1,305.1 L291.0,307.5 L291.0,308.2 L291.0,308.7 L291.0,309.3 L291.0,309.7 L291.0,310.1 L291.0,310.6 L291.0,311.0 L291.0,310.5 L346.9,310.5Z"/>
<path stroke="#0a32d2" d="M421.3,310.5 L421.3,311.0 L421.3,310.5 L421.3,310.1 L421.3,309.7 L421.3,309.3 L421.3,308.8 L421.3,308.2 L421.3,307.5 L421.2,304.8 L420.9,301.2 L420.7,296.9 L420.3,292.2 L419.9,287.3 L419.4,282.5 L418.9,278.1 L418.4,274.2 L418.0,271.7 L417.6,269.4 L417.2,267.2 L416.8,265.0 L416.3,262.9 L415.8,260.8 L415.2,258.7 L414.5,256.6 L413.7,254.3 L413.0,252.0 L412.1,249.6 L411.2,247.3 L410.2,245.1 L409.1,242.9 L408.0,240.9 L406.7,239.0 L405.4,237.4 L403.9,235.9 L402.3,234.4 L400.7,233.1 L399.1,231.8 L397.5,230.8 L396.2,229.9 L395.0,229.3 L394.6,229.1 L394.2,229.0 L393.8,228.9 L393.4,228.9 L393.1,228.8 L392.7,228.8 L392.4,228.8 L392.0,228.7 L391.1,229.0 L390.2,229.2 L389.3,229.4 L388.4,229.6 L387.5,229.9 L386.7,230.2 L385.8,230.5 L385.0,231.0 L384.1,231.6 L383.2,232.4 L382.3,233.2 L381.4,234.1 L380.6,235.0 L379.9,236.0 L379.1,237.0 L378.5,238.0 L377.9,239.1 L377.4,240.3 L377.0,241.5 L376.6,242.7 L376.2,244.0 L375.9,245.3 L375.6,246.6 L375.3,248.0 L375.0,249.6 L374.7,251.3 L374.4,253.0 L374.2,254.7 L374.0,256.5 L373.8,258.3 L373.6,260.1 L373.4,262.0 L373.2,264.1 L373.1,266.2 L372.9,268.4 L372.8,270.6 L372.7,272.9 L372.7,275.2 L372.6,277.6 L372.5,280.0 L372.4,283.3 L372.3,287.0 L372.2,291.0 L372.2,294.9 L372.1,298.7 L372.1,302.2 L372.0,305.2 L372.0,307.5 L372.0,308.2 L372.0,308.7 L372.0,309.2 L372.0,309.7 L372.0,310.1 L372.0,310.5 L372.0,311.0 L372.0,310.5 L421.3,310.5Z"/>
<path stroke="#0a32d2" d="M341.6,310.5 L341.6,310.8 L341.6,310.4 L341.6,310.0 L341.6,309.6 L341.6,309.2 L341.6,308.7 L341.6,308.1 L341.6,307.5 L341.5,304.5 L341.2,300.2 L340.9,295.1 L340.5,289.5 L340.1,283.7 L339.6,278.0 L339.0,272.8 L338.3,268.4 L337.8,265.9 L337.4,263.6 L336.8,261.4 L336.3,259.3 L335.7,257.3 L335.1,255.4 L334.4,253.5 L333.6,251.6 L332.8,249.9 L331.9,248.2 L331.0,246.5 L330.0,244.9 L329.0,243.3 L328.1,241.9 L327.1,240.6 L326.2,239.5 L325.7,238.9 L325.2,238.4 L324.7,237.9 L324.2,237.5 L323.7,237.1 L323.2,236.7 L322.6,236.4 L322.0,236.0 L321.2,235.6 L320.3,235.3 L319.4,235.0 L318.4,234.7 L317.4,234.4 L316.4,234.2 L315.5,233.9 L314.5,233.6 L313.8,233.8 L313.1,233.9 L312.4,234.1 L311.7,234.2 L311.0,234.4 L310.3,234.6 L309.6,234.9 L309.0,235.2 L308.4,235.6 L307.8,236.1 L307.2,236.7 L306.7,237.2 L306.2,237.9 L305.7,238.5 L305.2,239.2 L304.8,239.8 L304.4,240.5 L304.1,241.1 L303.8,241.9 L303.5,242.6 L303.2,243.3 L302.9,244.0 L302.6,244.8 L302.2,245.5 L301.7,246.3 L301.1,247.1 L300.5,247.9 L299.9,248.6 L299.2,249.4 L298.6,250.2 L298.1,251.1 L297.6,252.0 L297.2,253.0 L296.9,254.0 L296.6,255.1 L296.3,256.2 L296.1,257.3 L295.9,258.5 L295.7,259.7 L295.5,261.0 L295.2,262.9 L294.8,265.0 L294.5,267.1 L294.2,269.3 L293.9,271.7 L293.6,274.1 L293.3,276.5 L293.1,279.0 L292.8,282.4 L292.6,286.3 L292.3,290.4 L292.1,294.5 L291.9,298.5 L291.8,302.1 L291.7,305.2 L291.6,307.5 L291.6,308.1 L291.6,308.7 L291.6,309.1 L291.6,309.6 L291.6,310.0 L291.6,310.4 L291.6,310.8 L291.6,310.5 L341.6,310.5Z"/>
<path stroke="#0f8442" d="M415.3,310.5 L415.3,310.6 L415.3,310.2 L415.3,309.8 L415.3,309.4 L415.3,309.0 L415.3,308.6 L415.3,308.1 L415.3,307.5 L415.2,305.6 L415.1,303.3 L414.9,300.6 L414.7,297.6 L414.5,294.5 L414.3,291.4 L414.0,288.4 L413.7,285.7 L413.4,283.4 L413.2,281.2 L412.9,278.9 L412.6,276.8 L412.2,274.6 L411.9,272.5 L411.5,270.4 L411.0,268.3 L410.5,266.4 L410.0,264.5 L409.5,262.6 L408.9,260.8 L408.3,259.0 L407.7,257.2 L407.0,255.4 L406.3,253.7 L405.6,252.1 L404.9,250.4 L404.1,248.8 L403.3,247.2 L402.5,245.6 L401.6,244.2 L400.7,242.9 L399.7,241.7 L398.8,240.9 L397.9,240.2 L396.9,239.6 L395.8,239.1 L394.8,238.6 L393.8,238.1 L392.7,237.6 L391.7,237.0 L390.8,237.5 L390.0,237.9 L389.1,238.4 L388.2,238.8 L387.4,239.3 L386.5,239.8 L385.7,240.3 L385.0,241.0 L384.2,241.9 L383.4,242.8 L382.7,243.8 L382.0,244.9 L381.4,246.1 L380.8,247.3 L380.2,248.5 L379.7,249.7 L379.2,251.1 L378.8,252.5 L378.4,254.0 L378.1,255.5 L377.8,257.0 L377.5,258.6 L377.2,260.1 L377.0,261.7 L376.8,263.4 L376.6,265.1 L376.4,266.9 L376.2,268.7 L376.1,270.4 L375.9,272.1 L375.8,273.6 L375.7,275.0 L375.6,275.7 L375.6,276.3 L375.5,276.9 L375.4,277.4 L375.4,277.9 L375.3,278.5 L375.3,279.2 L375.2,280.0 L375.1,282.6 L375.0,285.9 L374.9,289.8 L374.9,294.0 L374.9,298.1 L374.8,301.9 L374.8,305.2 L374.8,307.5 L374.8,308.1 L374.8,308.6 L374.8,309.1 L374.8,309.5 L374.8,309.8 L374.8,310.2 L374.8,310.6 L374.8,310.5 L415.3,310.5Z"/>
<path stroke="#0f8442" d="M336.9,310.5 L336.9,310.4 L336.9,310.0 L336.9,309.7 L336.9,309.3 L336.9,309.0 L336.9,308.5 L336.9,308.1 L336.9,307.5 L336.8,305.3 L336.6,302.3 L336.4,298.7 L336.1,294.8 L335.8,290.7 L335.5,286.7 L335.0,282.9 L334.6,279.6 L334.2,277.3 L333.9,275.0 L333.5,272.9 L333.0,270.8 L332.6,268.7 L332.0,266.7 L331.4,264.7 L330.8,262.8 L330.1,261.0 L329.4,259.2 L328.6,257.5 L327.8,255.8 L327.0,254.1 L326.1,252.5 L325.2,251.1 L324.3,249.7 L323.6,248.7 L322.9,247.8 L322.2,246.9 L321.5,246.1 L320.7,245.4 L320.0,244.7 L319.3,244.0 L318.5,243.5 L317.9,243.1 L317.3,242.9 L316.7,242.6 L316.1,242.4 L315.5,242.3 L314.9,242.1 L314.3,241.9 L313.7,241.7 L312.7,242.2 L311.7,242.7 L310.7,243.2 L309.7,243.7 L308.7,244.3 L307.8,244.7 L307.0,245.2 L306.3,245.7 L306.0,246.0 L305.7,246.2 L305.4,246.4 L305.2,246.6 L305.0,246.9 L304.8,247.1 L304.5,247.4 L304.3,247.7 L303.9,248.3 L303.5,248.9 L303.1,249.7 L302.6,250.5 L302.2,251.3 L301.8,252.1 L301.4,252.9 L301.0,253.7 L300.6,254.5 L300.3,255.3 L299.9,256.2 L299.6,257.0 L299.2,257.8 L298.9,258.7 L298.6,259.5 L298.3,260.3 L298.0,261.0 L297.8,261.7 L297.5,262.4 L297.3,263.0 L297.1,263.7 L296.9,264.4 L296.6,265.2 L296.4,266.0 L296.1,267.3 L295.7,268.7 L295.4,270.2 L295.0,271.8 L294.7,273.5 L294.4,275.3 L294.1,277.1 L293.8,279.0 L293.5,282.2 L293.2,286.0 L292.9,290.1 L292.7,294.3 L292.5,298.4 L292.4,302.1 L292.3,305.2 L292.2,307.5 L292.2,308.1 L292.2,308.6 L292.2,309.0 L292.2,309.3 L292.2,309.7 L292.2,310.0 L292.2,310.4 L292.2,310.5 L336.9,310.5Z"/>
<path stroke="#3fc81c" d="M411.1,310.5 L411.1,310.2 L411.1,309.8 L411.1,309.5 L411.1,309.2 L411.1,308.8 L411.1,308.4 L411.1,308.0 L411.1,307.5 L411.1,305.9 L411.0,303.8 L411.0,301.4 L410.9,298.8 L410.8,296.1 L410.7,293.4 L410.5,290.7 L410.3,288.3 L410.1,286.2 L409.8,284.2 L409.5,282.1 L409.2,280.1 L408.9,278.1 L408.5,276.1 L408.1,274.2 L407.7,272.3 L407.3,270.5 L406.9,268.8 L406.4,267.1 L405.9,265.4 L405.4,263.7 L404.9,262.1 L404.3,260.5 L403.7,259.0 L403.1,257.7 L402.6,256.4 L402.0,255.1 L401.3,253.8 L400.7,252.6 L399.9,251.5 L399.2,250.5 L398.3,249.7 L397.5,249.1 L396.6,248.7 L395.7,248.3 L394.8,248.1 L393.8,247.8 L392.9,247.6 L391.9,247.3 L391.0,247.0 L390.2,247.3 L389.5,247.6 L388.7,247.9 L387.9,248.2 L387.1,248.5 L386.4,248.8 L385.7,249.2 L385.0,249.7 L384.4,250.2 L383.8,250.8 L383.3,251.4 L382.8,252.0 L382.3,252.7 L381.8,253.4 L381.4,254.2 L381.0,255.0 L380.5,256.1 L380.1,257.3 L379.7,258.6 L379.4,260.0 L379.1,261.4 L378.8,262.8 L378.5,264.3 L378.3,265.7 L378.0,267.3 L377.8,269.0 L377.6,270.8 L377.5,272.6 L377.3,274.3 L377.2,276.0 L377.1,277.6 L377.0,279.0 L376.9,279.8 L376.9,280.6 L376.8,281.3 L376.8,281.9 L376.7,282.6 L376.7,283.3 L376.6,284.1 L376.6,285.0 L376.5,287.3 L376.5,290.1 L376.4,293.3 L376.4,296.7 L376.4,300.0 L376.3,303.0 L376.3,305.6 L376.3,307.5 L376.3,308.0 L376.3,308.5 L376.3,308.8 L376.3,309.2 L376.3,309.5 L376.3,309.8 L376.3,310.2 L376.3,310.5 L411.1,310.5Z"/>
<path stroke="#3fc81c" d="M331.8,310.5 L331.8,310.0 L331.8,309.7 L331.8,309.4 L331.8,309.1 L331.8,308.7 L331.8,308.4 L331.8,308.0 L331.8,307.5 L331.8,306.0 L331.7,304.2 L331.6,302.0 L331.5,299.6 L331.4,297.2 L331.2,294.7 L331.0,292.2 L330.8,290.0 L330.6,288.0 L330.3,285.9 L330.0,283.9 L329.7,281.9 L329.3,279.9 L328.9,277.9 L328.5,275.9 L328.0,274.0 L327.5,272.0 L326.8,270.0 L326.2,268.0 L325.5,266.0 L324.8,264.1 L324.0,262.3 L323.3,260.6 L322.5,259.1 L322.0,258.1 L321.4,257.2 L320.9,256.4 L320.4,255.6 L319.8,254.8 L319.2,254.2 L318.6,253.5 L318.0,253.0 L317.5,252.6 L317.0,252.3 L316.4,252.1 L315.9,251.8 L315.3,251.6 L314.8,251.4 L314.2,251.2 L313.7,251.0 L312.7,251.1 L311.7,251.3 L310.7,251.4 L309.7,251.5 L308.8,251.6 L307.8,251.8 L307.0,252.0 L306.3,252.3 L305.9,252.6 L305.5,252.9 L305.2,253.2 L304.9,253.5 L304.6,253.9 L304.3,254.2 L304.0,254.6 L303.7,255.0 L303.3,255.4 L303.0,255.9 L302.7,256.4 L302.3,256.9 L302.0,257.4 L301.7,257.9 L301.3,258.4 L301.0,259.0 L300.6,259.7 L300.1,260.5 L299.7,261.3 L299.3,262.1 L298.8,263.0 L298.4,263.9 L298.0,264.8 L297.7,265.7 L297.4,266.8 L297.0,267.9 L296.8,269.0 L296.5,270.2 L296.3,271.4 L296.1,272.6 L295.9,273.8 L295.7,275.0 L295.5,276.2 L295.4,277.4 L295.2,278.5 L295.1,279.7 L295.0,280.9 L294.9,282.2 L294.7,283.6 L294.6,285.0 L294.4,287.5 L294.1,290.5 L293.8,293.7 L293.5,297.0 L293.3,300.2 L293.1,303.2 L292.9,305.7 L292.8,307.5 L292.8,308.0 L292.8,308.4 L292.8,308.8 L292.8,309.1 L292.8,309.4 L292.8,309.7 L292.8,310.0 L292.8,310.5 L331.8,310.5Z"/>
<path stroke="#d0ea00" d="M407.4,310.5 L407.4,309.8 L407.4,309.5 L407.4,309.2 L407.4,309.0 L407.4,308.7 L407.4,308.3 L407.4,307.9 L407.4,307.5 L407.3,305.6 L407.2,303.0 L407.1,299.9 L406.9,296.4 L406.7,292.8 L406.4,289.3 L406.1,285.9 L405.7,283.0 L405.4,281.0 L405.0,279.0 L404.7,277.1 L404.3,275.2 L403.9,273.4 L403.4,271.7 L402.9,270.0 L402.3,268.3 L401.8,266.8 L401.2,265.3 L400.6,263.8 L400.0,262.3 L399.3,260.9 L398.6,259.7 L397.8,258.6 L397.0,257.7 L396.3,257.2 L395.6,256.9 L394.9,256.6 L394.1,256.4 L393.3,256.2 L392.5,256.1 L391.8,255.9 L391.0,255.7 L390.3,256.0 L389.6,256.3 L388.9,256.6 L388.2,256.9 L387.5,257.2 L386.9,257.5 L386.3,257.9 L385.7,258.3 L385.2,258.8 L384.7,259.3 L384.2,259.8 L383.8,260.4 L383.4,261.0 L383.0,261.6 L382.6,262.3 L382.3,263.0 L381.9,264.0 L381.6,265.0 L381.3,266.1 L381.1,267.3 L380.9,268.5 L380.7,269.8 L380.5,271.0 L380.3,272.3 L380.1,273.9 L379.9,275.6 L379.8,277.5 L379.6,279.3 L379.5,281.1 L379.3,282.8 L379.2,284.4 L379.0,285.7 L378.9,286.3 L378.7,286.9 L378.6,287.4 L378.5,287.8 L378.3,288.3 L378.2,288.8 L378.1,289.3 L378.0,290.0 L377.9,291.7 L377.8,293.9 L377.7,296.4 L377.7,299.0 L377.7,301.6 L377.8,303.9 L377.8,306.0 L377.8,307.5 L377.8,307.9 L377.8,308.3 L377.8,308.6 L377.8,308.9 L377.8,309.2 L377.8,309.5 L377.8,309.8 L377.8,310.5 L407.4,310.5Z"/>
<path stroke="#d0ea00" d="M327.3,310.5 L327.3,309.6 L327.3,309.3 L327.3,309.1 L327.3,308.8 L327.3,308.6 L327.3,308.3 L327.3,307.9 L327.3,307.5 L327.3,306.1 L327.2,304.3 L327.2,302.1 L327.1,299.8 L326.9,297.3 L326.8,294.8 L326.6,292.3 L326.3,290.0 L326.0,287.7 L325.6,285.4 L325.2,283.1 L324.8,280.7 L324.3,278.4 L323.7,276.2 L323.2,274.1 L322.5,272.1 L321.9,270.5 L321.3,269.0 L320.6,267.5 L319.9,266.0 L319.2,264.6 L318.5,263.4 L317.7,262.3 L317.0,261.5 L316.6,261.1 L316.2,260.8 L315.8,260.6 L315.4,260.4 L314.9,260.2 L314.5,260.1 L314.1,259.9 L313.7,259.7 L312.6,259.9 L311.4,260.1 L310.3,260.3 L309.1,260.5 L308.0,260.7 L306.9,261.0 L305.9,261.3 L305.0,261.7 L304.4,262.1 L303.8,262.5 L303.2,263.0 L302.7,263.5 L302.3,264.0 L301.8,264.5 L301.4,265.1 L301.0,265.7 L300.6,266.4 L300.2,267.2 L299.8,268.0 L299.5,268.8 L299.2,269.6 L298.9,270.5 L298.6,271.4 L298.3,272.3 L297.9,273.4 L297.6,274.5 L297.2,275.6 L296.9,276.8 L296.6,278.0 L296.2,279.2 L296.0,280.4 L295.7,281.7 L295.4,283.2 L295.2,284.9 L295.0,286.5 L294.9,288.2 L294.7,289.9 L294.6,291.6 L294.4,293.3 L294.3,295.0 L294.1,296.6 L294.0,298.4 L293.8,300.1 L293.7,301.9 L293.6,303.5 L293.4,305.1 L293.4,306.4 L293.3,307.5 L293.3,307.9 L293.3,308.2 L293.3,308.5 L293.3,308.8 L293.3,309.1 L293.3,309.3 L293.3,309.6 L293.3,310.5 L327.3,310.5Z"/>
<path stroke="#ffc800" d="M403.8,310.5 L403.8,309.4 L403.8,309.2 L403.8,308.9 L403.8,308.7 L403.8,308.5 L403.8,308.2 L403.8,307.9 L403.8,307.5 L403.7,305.8 L403.6,303.5 L403.5,300.6 L403.4,297.5 L403.1,294.3 L402.9,291.1 L402.6,288.2 L402.3,285.7 L402.0,284.2 L401.8,282.7 L401.5,281.3 L401.2,280.0 L400.9,278.7 L400.5,277.4 L400.1,276.2 L399.7,275.0 L399.3,273.9 L398.9,272.8 L398.4,271.7 L397.9,270.6 L397.4,269.6 L396.9,268.6 L396.3,267.7 L395.7,267.0 L395.2,266.5 L394.6,266.1 L394.0,265.8 L393.4,265.5 L392.8,265.2 L392.2,264.9 L391.6,264.6 L391.0,264.3 L390.2,264.5 L389.4,264.6 L388.6,264.7 L387.8,264.8 L387.0,264.9 L386.2,265.1 L385.6,265.4 L385.0,265.7 L384.6,266.1 L384.3,266.5 L384.0,267.0 L383.8,267.5 L383.6,268.0 L383.4,268.6 L383.2,269.1 L383.0,269.7 L382.7,270.4 L382.5,271.1 L382.2,271.9 L382.0,272.7 L381.8,273.5 L381.6,274.3 L381.4,275.1 L381.2,276.0 L381.0,277.0 L380.9,278.1 L380.7,279.2 L380.6,280.4 L380.5,281.5 L380.4,282.7 L380.3,283.8 L380.2,285.0 L380.1,286.2 L380.0,287.4 L379.9,288.7 L379.8,289.9 L379.7,291.1 L379.6,292.4 L379.6,293.7 L379.5,295.0 L379.4,296.6 L379.4,298.3 L379.4,300.0 L379.3,301.8 L379.3,303.5 L379.3,305.1 L379.3,306.4 L379.3,307.5 L379.3,307.9 L379.3,308.2 L379.3,308.4 L379.3,308.7 L379.3,308.9 L379.3,309.2 L379.3,309.4 L379.3,310.5 L403.8,310.5Z"/>
<path stroke="#ffc800" d="M323.5,310.5 L323.5,309.3 L323.5,309.0 L323.5,308.8 L323.5,308.6 L323.5,308.4 L323.5,308.1 L323.5,307.8 L323.5,307.5 L323.5,306.3 L323.5,304.8 L323.4,303.0 L323.4,301.1 L323.3,299.0 L323.2,296.9 L323.0,294.9 L322.8,293.0 L322.5,291.1 L322.2,289.1 L321.9,287.2 L321.5,285.2 L321.1,283.3 L320.6,281.4 L320.1,279.6 L319.5,278.0 L319.0,276.7 L318.4,275.5 L317.8,274.3 L317.2,273.1 L316.6,272.1 L315.9,271.1 L315.2,270.2 L314.5,269.5 L314.0,269.1 L313.4,268.8 L312.9,268.5 L312.3,268.3 L311.7,268.1 L311.1,267.9 L310.6,267.7 L310.0,267.5 L309.4,267.5 L308.7,267.5 L308.1,267.4 L307.4,267.4 L306.8,267.4 L306.2,267.4 L305.6,267.5 L305.0,267.7 L304.4,268.0 L303.9,268.4 L303.3,268.8 L302.8,269.4 L302.3,269.9 L301.9,270.5 L301.4,271.1 L301.0,271.7 L300.6,272.4 L300.2,273.1 L299.8,273.8 L299.5,274.5 L299.2,275.3 L298.9,276.1 L298.6,276.9 L298.3,277.7 L298.0,278.6 L297.7,279.6 L297.4,280.5 L297.2,281.5 L297.0,282.5 L296.7,283.6 L296.5,284.6 L296.3,285.7 L296.1,287.0 L295.8,288.4 L295.6,289.8 L295.5,291.2 L295.3,292.7 L295.1,294.2 L295.0,295.6 L294.8,297.0 L294.6,298.4 L294.5,299.8 L294.3,301.3 L294.2,302.8 L294.1,304.2 L293.9,305.5 L293.9,306.6 L293.8,307.5 L293.8,307.8 L293.8,308.1 L293.8,308.4 L293.8,308.6 L293.8,308.8 L293.8,309.0 L293.8,309.3 L293.8,310.5 L323.5,310.5Z"/>
<path stroke="#ff8a00" d="M399.7,310.5 L399.7,309.1 L399.7,308.9 L399.7,308.7 L399.7,308.5 L399.7,308.3 L399.7,308.1 L399.7,307.8 L399.7,307.5 L399.6,306.0 L399.6,304.0 L399.4,301.5 L399.3,298.8 L399.1,296.0 L398.9,293.2 L398.6,290.6 L398.3,288.3 L398.1,286.8 L397.8,285.3 L397.5,283.9 L397.2,282.5 L396.9,281.2 L396.5,279.9 L396.1,278.8 L395.7,277.7 L395.3,277.0 L395.0,276.2 L394.6,275.6 L394.2,274.9 L393.7,274.3 L393.3,273.8 L392.8,273.4 L392.3,273.0 L391.9,272.8 L391.4,272.6 L390.9,272.5 L390.5,272.5 L390.0,272.4 L389.5,272.4 L389.0,272.4 L388.5,272.3 L387.8,272.5 L387.1,272.6 L386.4,272.7 L385.7,272.8 L385.0,273.0 L384.3,273.2 L383.8,273.4 L383.3,273.8 L382.9,274.3 L382.7,274.8 L382.5,275.5 L382.3,276.1 L382.2,276.9 L382.1,277.6 L382.0,278.3 L381.9,279.0 L381.8,279.7 L381.7,280.4 L381.6,281.1 L381.5,281.8 L381.4,282.6 L381.3,283.3 L381.3,284.1 L381.2,285.0 L381.1,286.4 L381.0,287.9 L381.0,289.6 L380.9,291.3 L380.8,293.1 L380.8,294.8 L380.7,296.4 L380.7,298.0 L380.7,299.3 L380.6,300.7 L380.6,302.0 L380.6,303.3 L380.5,304.6 L380.5,305.7 L380.5,306.7 L380.5,307.5 L380.5,307.8 L380.5,308.0 L380.5,308.3 L380.5,308.5 L380.5,308.7 L380.5,308.9 L380.5,309.0 L380.5,310.5 L399.7,310.5Z"/>
<path stroke="#ff8a00" d="M319.7,310.5 L319.7,308.9 L319.7,308.8 L319.7,308.6 L319.7,308.4 L319.7,308.2 L319.7,308.0 L319.7,307.8 L319.7,307.5 L319.6,306.1 L319.5,304.0 L319.4,301.5 L319.2,298.8 L318.9,295.9 L318.6,293.1 L318.2,290.5 L317.7,288.3 L317.3,286.8 L316.8,285.4 L316.3,284.0 L315.8,282.6 L315.2,281.4 L314.6,280.2 L313.8,279.2 L313.0,278.3 L312.2,277.6 L311.3,277.1 L310.3,276.7 L309.2,276.3 L308.2,276.0 L307.1,275.7 L306.0,275.4 L305.0,275.0 L304.5,275.7 L304.0,276.3 L303.5,276.9 L303.0,277.6 L302.5,278.2 L302.0,278.9 L301.5,279.6 L301.0,280.3 L300.5,281.2 L299.9,282.1 L299.4,283.1 L298.8,284.1 L298.3,285.1 L297.8,286.2 L297.4,287.2 L297.0,288.3 L296.6,289.4 L296.3,290.6 L296.0,291.7 L295.8,292.9 L295.6,294.1 L295.4,295.3 L295.2,296.5 L295.0,297.7 L294.8,299.0 L294.7,300.3 L294.6,301.7 L294.5,303.1 L294.4,304.4 L294.4,305.6 L294.3,306.7 L294.3,307.5 L294.3,307.8 L294.3,308.0 L294.3,308.2 L294.3,308.4 L294.3,308.6 L294.3,308.8 L294.3,308.9 L294.3,310.5 L319.7,310.5Z"/>
<path stroke="#ff4400" d="M395.2,310.5 L395.2,308.7 L395.2,308.5 L395.2,308.4 L395.2,308.2 L395.2,308.1 L395.2,307.9 L395.2,307.7 L395.2,307.5 L395.2,307.0 L395.2,306.4 L395.2,305.7 L395.1,305.0 L395.1,304.2 L395.1,303.4 L395.0,302.6 L395.0,301.7 L394.9,300.1 L394.9,298.3 L394.8,296.4 L394.7,294.3 L394.6,292.3 L394.4,290.3 L394.1,288.5 L393.7,287.0 L393.4,286.0 L393.0,285.1 L392.6,284.2 L392.2,283.4 L391.8,282.6 L391.3,281.9 L390.8,281.4 L390.3,281.0 L389.9,280.8 L389.5,280.8 L389.1,280.8 L388.7,280.8 L388.3,280.9 L387.8,280.9 L387.4,281.0 L387.0,281.0 L386.6,281.0 L386.1,280.9 L385.7,280.8 L385.2,280.8 L384.8,280.7 L384.4,280.7 L384.0,280.8 L383.7,281.0 L383.3,281.5 L383.0,282.2 L382.7,283.0 L382.5,284.0 L382.4,285.0 L382.2,286.1 L382.1,287.2 L382.0,288.3 L381.9,289.6 L381.8,291.1 L381.8,292.6 L381.8,294.1 L381.8,295.7 L381.9,297.2 L381.9,298.6 L381.9,300.0 L381.9,301.1 L381.9,302.1 L381.9,303.2 L381.8,304.2 L381.8,305.2 L381.8,306.1 L381.8,306.9 L381.8,307.5 L381.8,307.7 L381.8,307.9 L381.8,308.1 L381.8,308.2 L381.8,308.4 L381.8,308.5 L381.8,308.7 L381.8,310.5 L395.2,310.5Z"/>
<path stroke="#ff4400" d="M316.3,310.5 L316.3,308.6 L316.3,308.4 L316.3,308.3 L316.3,308.2 L316.3,308.0 L316.3,307.9 L316.3,307.7 L316.3,307.5 L316.3,306.4 L316.3,304.9 L316.4,303.1 L316.4,301.1 L316.3,299.0 L316.2,297.0 L316.0,295.2 L315.7,293.7 L315.4,292.9 L315.1,292.1 L314.7,291.4 L314.3,290.7 L313.9,290.1 L313.4,289.5 L312.9,288.9 L312.3,288.3 L311.6,287.7 L310.9,287.0 L310.0,286.5 L309.2,285.9 L308.3,285.4 L307.4,284.8 L306.5,284.3 L305.7,283.7 L305.3,283.9 L304.8,284.2 L304.4,284.4 L303.9,284.6 L303.5,284.8 L303.1,285.1 L302.7,285.3 L302.3,285.7 L301.9,286.2 L301.6,286.8 L301.3,287.5 L301.0,288.2 L300.7,289.0 L300.4,289.7 L300.1,290.4 L299.7,291.0 L299.2,291.5 L298.7,292.1 L298.1,292.5 L297.6,293.0 L297.0,293.5 L296.5,293.9 L296.0,294.4 L295.7,295.0 L295.5,295.6 L295.3,296.1 L295.3,296.7 L295.2,297.4 L295.2,298.0 L295.2,298.7 L295.2,299.3 L295.2,300.0 L295.1,300.9 L295.1,301.9 L295.0,303.0 L295.0,304.1 L295.0,305.1 L294.9,306.0 L294.9,306.9 L294.9,307.5 L294.9,307.7 L294.9,307.9 L294.9,308.0 L294.9,308.2 L294.9,308.3 L294.9,308.4 L294.9,308.5 L294.9,310.5 L316.3,310.5Z"/>
<path stroke="#ff0000" d="M384.2,310.5 L391.1,310.5 L391.1,308.0 L391.1,308.0 L391.1,307.9 L391.1,307.8 L391.1,307.8 L391.1,307.7 L391.1,307.6 L391.1,307.5 L391.1,307.1 L391.1,306.7 L391.1,306.1 L391.1,305.5 L391.1,304.8 L391.1,304.2 L391.1,303.6 L391.1,303.0 L391.1,302.6 L391.1,302.1 L391.2,301.7 L391.2,301.2 L391.2,300.8 L391.2,300.4 L391.1,300.0 L391.0,299.7 L390.8,299.4 L390.5,299.1 L390.2,298.9 L389.8,298.6 L389.4,298.4 L389.0,298.2 L388.6,297.9 L388.3,297.7 L388.0,297.5 L387.7,297.2 L387.4,297.0 L387.1,296.7 L386.9,296.5 L386.6,296.2 L386.3,296.0 L386.0,295.7 L385.8,295.7 L385.5,295.7 L385.3,295.7 L385.1,295.7 L384.8,295.8 L384.6,295.8 L384.4,295.9 L384.3,296.0 L384.2,296.3 L384.1,296.7 L384.1,297.1 L384.1,297.7 L384.2,298.2 L384.2,298.8 L384.3,299.4 L384.3,300.0 L384.3,300.9 L384.3,301.9 L384.3,303.0 L384.2,304.1 L384.2,305.2 L384.2,306.2 L384.2,306.9 L384.2,307.5 L384.2,307.6 L384.2,307.7 L384.2,307.8 L384.2,307.8 L384.2,307.9 L384.2,308.0 L384.2,308.0 L384.2,310.5Z"/>
</g>
<g clip-path="url(#cp2)" fill="none" stroke-width="2" stroke-linejoin="round">
<path stroke="#48007c" d="M321.9,466.5 L321.9,466.5 L321.9,467.2 L322.0,467.8 L322.0,468.4 L322.0,466.5 L338.0,466.5 L338.0,468.5 L338.0,467.9 L338.0,467.3 L338.1,466.6 L338.1,466.5 L418.0,466.5 L418.0,466.7 L418.0,467.3 L418.0,467.9 L418.0,468.6 L418.0,466.5 L436.0,466.5 L436.0,468.4 L436.0,467.8 L436.0,467.2 L436.0,466.6 L436.0,466.5 L538.4,466.5 L538.4,468.5 L538.4,467.9 L538.4,467.2 L538.5,466.6 L538.5,465.9 L538.5,465.2 L538.4,464.4 L538.4,463.5 L538.3,461.7 L538.1,459.7 L537.9,457.5 L537.6,455.1 L537.3,452.7 L536.9,450.3 L536.5,448.0 L536.0,445.9 L535.5,444.1 L535.0,442.4 L534.5,440.7 L533.9,439.0 L533.3,437.3 L532.6,435.7 L531.9,434.0 L531.2,432.4 L530.4,430.7 L529.5,429.0 L528.6,427.3 L527.6,425.7 L526.6,424.0 L525.6,422.3 L524.5,420.6 L523.4,418.8 L522.1,416.7 L520.7,414.5 L519.2,412.3 L517.7,410.1 L516.2,407.8 L514.7,405.6 L513.2,403.4 L511.8,401.3 L510.5,399.4 L509.3,397.6 L508.0,395.8 L506.8,394.0 L505.6,392.2 L504.4,390.3 L503.1,388.5 L501.9,386.6 L500.5,384.5 L499.2,382.3 L497.8,380.0 L496.4,377.8 L495.0,375.5 L493.7,373.3 L492.3,371.2 L490.9,369.1 L489.7,367.3 L488.4,365.5 L487.2,363.6 L486.0,361.9 L484.7,360.2 L483.5,358.6 L482.2,357.2 L481.0,356.0 L480.1,355.3 L479.3,354.7 L478.4,354.1 L477.6,353.6 L476.7,353.2 L475.8,352.8 L474.9,352.4 L474.0,352.0 L473.0,351.6 L472.0,351.2 L470.9,350.9 L469.9,350.6 L468.8,350.3 L467.8,350.1 L466.9,349.8 L466.0,349.6 L465.4,349.5 L464.9,349.3 L464.4,349.2 L463.9,349.2 L463.4,349.1 L463.0,349.0 L462.5,348.9 L462.0,348.8 L460.8,349.1 L459.7,349.3 L458.5,349.5 L457.3,349.7 L456.1,350.0 L455.0,350.3 L453.9,350.6 L452.9,351.0 L452.1,351.4 L451.4,351.8 L450.7,352.2 L450.0,352.7 L449.3,353.2 L448.7,353.8 L448.0,354.3 L447.4,354.9 L446.7,355.6 L445.9,356.3 L445.2,357.1 L444.5,357.9 L443.8,358.7 L443.2,359.6 L442.5,360.5 L441.9,361.4 L441.3,362.5 L440.6,363.8 L440.1,365.1 L439.5,366.4 L439.0,367.7 L438.5,369.0 L438.0,370.2 L437.5,371.3 L437.2,372.0 L436.8,372.6 L436.5,373.2 L436.2,373.8 L435.9,374.3 L435.6,374.9 L435.3,375.4 L435.0,376.0 L434.8,376.6 L434.5,377.1 L434.3,377.7 L434.1,378.3 L433.9,378.8 L433.7,379.4 L433.5,380.0 L433.2,380.5 L432.9,381.0 L432.6,381.5 L432.3,382.1 L432.0,382.6 L431.6,383.1 L431.3,383.5 L430.9,384.0 L430.5,384.5 L430.1,385.0 L429.6,385.4 L429.1,385.9 L428.6,386.3 L428.0,386.7 L427.5,387.2 L427.0,387.7 L426.8,388.0 L426.6,387.6 L425.9,386.8 L425.2,386.0 L424.4,385.3 L423.5,384.7 L422.7,384.0 L421.8,383.4 L420.9,382.8 L420.1,382.1 L419.3,381.5 L418.6,380.9 L417.8,380.3 L417.1,379.7 L416.4,379.0 L415.6,378.4 L414.9,377.8 L414.1,377.1 L413.2,376.3 L412.4,375.4 L411.5,374.5 L410.6,373.6 L409.8,372.7 L408.9,371.8 L408.0,370.9 L407.1,370.1 L406.2,369.3 L405.4,368.5 L404.5,367.8 L403.6,367.0 L402.7,366.3 L401.9,365.6 L401.0,364.8 L400.1,364.1 L399.2,363.4 L398.4,362.6 L397.5,361.8 L396.6,361.1 L395.7,360.4 L394.8,359.7 L393.9,359.1 L393.0,358.5 L392.2,358.1 L391.3,357.7 L390.4,357.4 L389.6,357.1 L388.7,356.9 L387.8,356.6 L386.9,356.3 L386.0,356.0 L385.0,355.6 L384.1,355.2 L383.1,354.8 L382.1,354.4 L381.1,354.0 L380.1,353.6 L379.1,353.3 L378.1,353.0 L377.0,352.8 L376.0,352.7 L374.9,352.6 L373.8,352.5 L372.7,352.5 L371.6,352.5 L370.5,352.5 L369.4,352.4 L368.1,352.6 L366.8,352.7 L365.5,352.8 L364.1,352.9 L362.8,353.0 L361.6,353.2 L360.4,353.5 L359.2,353.9 L358.2,354.3 L357.2,354.9 L356.2,355.4 L355.3,356.1 L354.4,356.7 L353.5,357.4 L352.7,358.2 L351.9,359.0 L351.1,359.9 L350.2,360.9 L349.5,362.0 L348.7,363.1 L348.0,364.2 L347.3,365.4 L346.7,366.5 L346.1,367.7 L345.5,368.9 L345.0,370.2 L344.5,371.5 L344.0,372.8 L343.6,374.1 L343.2,375.4 L342.8,376.7 L342.4,378.0 L342.1,379.3 L341.7,380.6 L341.5,382.0 L341.2,383.4 L341.0,384.7 L340.7,385.9 L340.5,387.1 L340.2,388.2 L340.0,388.8 L339.9,389.4 L339.7,389.9 L339.6,390.4 L339.4,390.9 L339.2,391.4 L339.0,392.0 L338.8,392.6 L338.4,393.7 L337.9,394.9 L337.3,396.1 L336.8,397.5 L336.2,398.8 L335.6,400.2 L335.0,401.6 L334.5,403.0 L334.0,404.4 L333.5,405.8 L333.1,407.3 L332.6,408.7 L332.2,410.2 L331.7,411.7 L331.3,413.3 L331.0,414.8 L330.7,413.7 L330.4,412.5 L330.1,411.4 L329.8,410.4 L329.4,409.4 L329.1,408.4 L328.7,407.3 L328.3,406.3 L327.9,405.2 L327.4,404.2 L327.0,403.2 L326.5,402.1 L326.0,401.1 L325.5,400.1 L325.0,399.1 L324.5,398.0 L324.0,396.8 L323.4,395.7 L322.9,394.4 L322.4,393.2 L321.8,392.0 L321.3,390.9 L320.6,389.8 L320.0,388.8 L319.4,388.0 L318.8,387.3 L318.2,386.7 L317.6,386.1 L316.9,385.5 L316.2,384.8 L315.5,384.2 L314.8,383.4 L313.7,382.2 L312.6,380.9 L311.5,379.5 L310.3,378.0 L309.0,376.5 L307.8,375.1 L306.5,373.7 L305.2,372.4 L303.9,371.3 L302.6,370.2 L301.2,369.1 L299.8,368.1 L298.4,367.2 L297.0,366.2 L295.6,365.2 L294.2,364.2 L292.8,363.2 L291.5,362.1 L290.2,361.0 L288.9,359.9 L287.5,358.8 L286.2,357.8 L284.8,356.9 L283.3,356.0 L281.7,355.2 L280.1,354.4 L278.5,353.7 L276.8,353.1 L275.0,352.5 L273.3,352.0 L271.6,351.5 L269.8,351.0 L268.0,350.6 L266.2,350.2 L264.3,350.0 L262.4,349.7 L260.5,349.5 L258.7,349.3 L256.8,349.1 L254.9,348.8 L254.2,349.1 L253.6,349.3 L252.9,349.6 L252.3,349.9 L251.6,350.1 L250.9,350.4 L250.2,350.7 L249.5,351.0 L248.6,351.4 L247.7,351.8 L246.7,352.2 L245.7,352.6 L244.7,353.0 L243.7,353.4 L242.8,353.9 L241.8,354.3 L240.8,354.8 L239.8,355.2 L238.8,355.7 L237.7,356.2 L236.7,356.7 L235.8,357.2 L234.9,357.7 L234.1,358.1 L233.6,358.4 L233.2,358.6 L232.7,358.8 L232.4,359.1 L232.0,359.3 L231.6,359.6 L231.2,359.9 L230.8,360.3 L230.1,361.1 L229.5,362.1 L228.8,363.2 L228.1,364.3 L227.5,365.6 L226.8,366.8 L226.1,368.0 L225.4,369.1 L224.7,370.1 L224.0,371.0 L223.3,372.0 L222.6,372.9 L221.9,373.8 L221.2,374.8 L220.5,375.7 L219.9,376.8 L219.3,378.1 L218.7,379.4 L218.2,380.8 L217.7,382.2 L217.2,383.7 L216.7,385.1 L216.1,386.4 L215.5,387.7 L214.9,388.8 L214.2,389.8 L213.5,390.7 L212.8,391.7 L212.1,392.6 L211.3,393.5 L210.6,394.4 L210.0,395.4 L209.4,396.3 L208.8,397.2 L208.2,398.1 L207.7,399.0 L207.1,399.9 L206.6,400.8 L206.1,401.9 L205.7,403.0 L205.2,404.8 L204.7,406.7 L204.4,408.8 L204.1,410.9 L203.8,413.2 L203.5,415.5 L203.3,417.8 L203.0,420.0 L202.7,422.4 L202.4,424.8 L202.1,427.3 L201.9,429.8 L201.6,432.3 L201.4,434.8 L201.2,437.4 L201.0,440.0 L200.8,443.0 L200.6,446.1 L200.4,449.4 L200.2,452.6 L200.1,455.8 L200.0,458.7 L199.9,461.3 L199.8,463.5 L199.8,464.4 L199.8,465.2 L199.8,465.9 L199.8,466.6 L199.8,467.3 L199.8,467.9 L199.8,468.5 L199.8,466.5 L321.9,466.5Z"/>
<path stroke="#26007f" d="M331.0,466.5 L331.0,468.4 L331.0,467.7 L331.0,467.1 L331.0,466.4 L331.0,465.8 L331.0,465.1 L331.0,464.3 L331.0,463.5 L331.0,461.9 L331.0,460.1 L330.9,458.2 L330.9,456.1 L330.8,454.0 L330.8,451.9 L330.6,449.8 L330.5,447.8 L330.3,445.9 L330.1,444.0 L329.9,442.1 L329.6,440.2 L329.4,438.3 L329.1,436.3 L328.7,434.4 L328.3,432.5 L327.8,430.4 L327.3,428.2 L326.7,426.0 L326.0,423.8 L325.4,421.7 L324.7,419.6 L324.1,417.7 L323.5,416.0 L323.1,415.0 L322.7,414.0 L322.4,413.1 L322.0,412.2 L321.6,411.4 L321.3,410.6 L320.9,409.8 L320.5,409.0 L320.2,408.3 L319.8,407.7 L319.5,407.1 L319.1,406.5 L318.8,405.9 L318.4,405.3 L318.0,404.6 L317.5,403.9 L316.6,402.5 L315.5,400.9 L314.4,399.1 L313.1,397.3 L311.9,395.5 L310.6,393.6 L309.3,391.9 L308.0,390.2 L306.8,388.7 L305.7,387.3 L304.5,385.9 L303.3,384.6 L302.1,383.2 L300.9,381.9 L299.7,380.5 L298.4,379.2 L297.1,377.8 L295.7,376.4 L294.4,375.0 L293.0,373.6 L291.6,372.2 L290.2,370.9 L288.8,369.6 L287.4,368.3 L286.1,367.2 L284.7,366.1 L283.4,365.0 L282.0,363.9 L280.6,362.9 L279.2,361.9 L277.8,361.0 L276.4,360.1 L275.0,359.3 L273.6,358.5 L272.2,357.7 L270.7,356.9 L269.3,356.2 L267.9,355.6 L266.4,355.0 L265.0,354.5 L263.7,354.1 L262.5,353.8 L261.2,353.6 L259.9,353.4 L258.7,353.2 L257.4,353.1 L256.2,352.9 L254.9,352.7 L254.2,352.9 L253.6,353.1 L252.9,353.3 L252.3,353.5 L251.6,353.7 L250.9,353.9 L250.2,354.1 L249.5,354.3 L248.6,354.6 L247.7,354.9 L246.7,355.2 L245.8,355.5 L244.8,355.8 L243.8,356.2 L242.8,356.6 L241.8,357.0 L240.6,357.5 L239.3,358.1 L238.0,358.7 L236.6,359.4 L235.4,360.1 L234.1,360.8 L232.9,361.6 L231.9,362.5 L231.0,363.4 L230.3,364.3 L229.6,365.3 L228.9,366.3 L228.3,367.4 L227.7,368.5 L227.1,369.5 L226.4,370.5 L225.7,371.4 L225.0,372.4 L224.3,373.2 L223.6,374.1 L222.9,375.1 L222.3,376.0 L221.6,377.0 L221.0,378.0 L220.4,379.2 L219.8,380.6 L219.3,381.9 L218.8,383.4 L218.2,384.8 L217.7,386.1 L217.1,387.5 L216.5,388.7 L215.9,389.7 L215.2,390.7 L214.5,391.7 L213.8,392.6 L213.1,393.5 L212.3,394.4 L211.7,395.3 L211.0,396.2 L210.4,397.1 L209.8,397.9 L209.2,398.8 L208.6,399.6 L208.0,400.5 L207.5,401.4 L207.0,402.4 L206.5,403.5 L205.9,405.2 L205.5,407.1 L205.0,409.1 L204.7,411.2 L204.4,413.4 L204.1,415.6 L203.8,417.8 L203.5,420.0 L203.2,422.4 L202.9,424.8 L202.6,427.3 L202.3,429.8 L202.1,432.3 L201.8,434.8 L201.6,437.4 L201.4,440.0 L201.2,443.0 L201.0,446.1 L200.8,449.4 L200.7,452.6 L200.6,455.8 L200.4,458.7 L200.4,461.3 L200.3,463.5 L200.3,464.4 L200.3,465.2 L200.3,465.9 L200.3,466.5 L200.3,467.1 L200.3,467.7 L200.3,468.4 L200.3,466.5 L331.0,466.5Z"/>
<path stroke="#26007f" d="M431.0,468.3 L431.0,467.7 L431.0,467.1 L431.0,466.5 L431.0,466.5 L521.5,466.5 L521.5,468.3 L521.5,467.6 L521.5,467.0 L521.5,466.4 L521.5,465.7 L521.5,465.0 L521.5,464.3 L521.5,463.5 L521.4,462.1 L521.4,460.5 L521.3,458.9 L521.2,457.1 L521.1,455.3 L520.9,453.5 L520.7,451.7 L520.5,450.0 L520.2,448.3 L519.9,446.7 L519.5,445.1 L519.2,443.5 L518.7,441.8 L518.3,440.2 L517.7,438.6 L517.2,436.9 L516.5,435.0 L515.8,433.2 L515.0,431.3 L514.2,429.4 L513.3,427.5 L512.4,425.6 L511.5,423.6 L510.6,421.6 L509.6,419.3 L508.6,416.8 L507.5,414.4 L506.5,411.9 L505.4,409.4 L504.2,406.9 L503.1,404.4 L501.9,401.9 L500.6,399.4 L499.3,396.9 L497.9,394.5 L496.5,392.0 L495.1,389.6 L493.7,387.1 L492.3,384.7 L490.9,382.2 L489.5,379.6 L488.1,376.9 L486.7,374.1 L485.3,371.4 L483.9,368.7 L482.6,366.3 L481.3,364.2 L480.0,362.5 L479.4,361.8 L478.7,361.1 L478.1,360.6 L477.6,360.1 L477.0,359.7 L476.3,359.3 L475.7,358.9 L475.0,358.5 L474.2,358.1 L473.4,357.7 L472.5,357.3 L471.7,357.0 L470.8,356.7 L469.9,356.4 L469.0,356.2 L468.1,355.9 L467.2,355.7 L466.3,355.4 L465.5,355.3 L464.6,355.1 L463.7,354.9 L462.8,354.7 L461.9,354.6 L461.0,354.4 L460.0,354.5 L458.9,354.6 L457.8,354.7 L456.8,354.7 L455.7,354.8 L454.7,355.0 L453.8,355.1 L452.9,355.4 L452.3,355.7 L451.7,355.9 L451.1,356.2 L450.6,356.6 L450.1,356.9 L449.6,357.3 L449.0,357.7 L448.5,358.2 L447.8,358.8 L447.1,359.5 L446.4,360.3 L445.6,361.1 L444.9,362.0 L444.3,362.8 L443.6,363.8 L443.0,364.7 L442.4,365.8 L441.7,367.0 L441.2,368.2 L440.6,369.5 L440.1,370.8 L439.6,372.1 L439.1,373.4 L438.6,374.6 L438.1,375.7 L437.7,376.8 L437.3,377.9 L436.9,379.0 L436.5,380.0 L436.1,381.1 L435.7,382.3 L435.3,383.4 L434.9,384.7 L434.5,386.1 L434.1,387.4 L433.8,388.8 L433.4,390.2 L433.0,391.6 L432.6,393.0 L432.1,394.3 L431.6,395.6 L431.0,396.9 L430.5,398.2 L429.9,399.5 L429.3,400.7 L428.7,401.9 L428.2,403.1 L427.7,404.2 L427.4,405.0 L427.1,405.7 L426.9,406.1 L426.9,405.9 L426.4,404.2 L426.0,402.8 L425.5,401.4 L425.0,400.1 L424.5,398.8 L423.9,397.6 L423.3,396.4 L422.7,395.2 L422.1,394.1 L421.5,393.1 L421.0,392.2 L420.4,391.3 L419.7,390.5 L419.1,389.7 L418.5,388.8 L417.8,388.0 L417.1,387.1 L416.3,386.1 L415.5,385.1 L414.6,384.1 L413.7,383.1 L412.8,382.1 L411.9,381.1 L411.0,380.1 L410.1,379.1 L409.1,378.1 L408.2,377.0 L407.2,376.0 L406.1,375.0 L405.1,374.0 L404.1,373.0 L403.1,372.0 L402.1,371.1 L401.2,370.3 L400.3,369.5 L399.4,368.7 L398.6,367.9 L397.7,367.2 L396.8,366.5 L395.9,365.8 L395.0,365.1 L394.2,364.5 L393.3,364.0 L392.5,363.4 L391.6,362.9 L390.7,362.4 L389.9,362.0 L388.9,361.5 L388.0,361.0 L386.9,360.4 L385.7,359.8 L384.4,359.3 L383.2,358.7 L381.9,358.2 L380.6,357.6 L379.3,357.2 L378.1,356.8 L377.0,356.5 L375.9,356.3 L374.8,356.1 L373.7,355.9 L372.7,355.8 L371.6,355.6 L370.5,355.5 L369.4,355.3 L368.1,355.5 L366.8,355.6 L365.4,355.7 L364.1,355.8 L362.8,356.0 L361.5,356.2 L360.3,356.5 L359.2,356.8 L358.4,357.1 L357.6,357.5 L356.8,357.9 L356.1,358.3 L355.4,358.8 L354.7,359.3 L354.1,359.8 L353.4,360.4 L352.6,361.1 L351.8,361.9 L351.0,362.8 L350.2,363.7 L349.5,364.7 L348.8,365.6 L348.1,366.7 L347.5,367.7 L346.9,368.8 L346.4,370.0 L345.9,371.3 L345.5,372.5 L345.1,373.8 L344.7,375.2 L344.3,376.6 L343.9,378.0 L343.4,379.8 L343.0,381.8 L342.6,383.9 L342.1,386.0 L341.7,388.1 L341.3,390.1 L340.9,392.1 L340.5,394.0 L340.1,395.5 L339.7,396.9 L339.3,398.2 L339.0,399.6 L338.6,400.9 L338.2,402.2 L337.8,403.6 L337.5,405.0 L337.2,406.5 L336.9,408.1 L336.6,409.6 L336.3,411.2 L336.0,412.8 L335.8,414.5 L335.5,416.2 L335.3,418.0 L335.0,420.5 L334.8,423.1 L334.6,425.8 L334.4,428.6 L334.2,431.4 L334.1,434.3 L333.9,437.2 L333.8,440.0 L333.7,443.0 L333.6,446.2 L333.5,449.5 L333.4,452.7 L333.4,455.9 L333.4,458.8 L333.3,461.3 L333.3,463.5 L333.3,464.4 L333.3,465.1 L333.3,465.8 L333.3,466.4 L333.3,467.0 L333.3,467.6 L333.3,468.3 L333.3,466.5 L422.0,466.5 L422.0,466.6 L422.0,467.1 L422.0,467.7 L422.0,468.3 L422.0,466.5 L431.0,466.5 L431.0,468.3Z"/>
<path stroke="#00008f" d="M318.5,466.5 L318.5,468.1 L318.5,467.5 L318.5,466.9 L318.6,466.3 L318.6,465.7 L318.6,465.0 L318.5,464.3 L318.5,463.5 L318.4,461.7 L318.2,459.6 L317.9,457.2 L317.7,454.7 L317.3,452.2 L317.0,449.7 L316.7,447.2 L316.3,445.0 L316.0,443.3 L315.7,441.6 L315.4,439.9 L315.0,438.3 L314.7,436.7 L314.3,435.1 L313.9,433.6 L313.5,432.0 L313.1,430.5 L312.6,428.9 L312.2,427.4 L311.7,425.9 L311.2,424.4 L310.7,422.9 L310.3,421.4 L309.8,420.0 L309.4,418.8 L309.0,417.6 L308.7,416.5 L308.3,415.4 L308.0,414.3 L307.6,413.1 L307.1,412.0 L306.6,410.8 L305.9,409.3 L305.1,407.8 L304.3,406.2 L303.4,404.7 L302.5,403.1 L301.6,401.5 L300.6,399.9 L299.7,398.4 L298.7,396.8 L297.8,395.3 L296.8,393.7 L295.8,392.2 L294.7,390.6 L293.7,389.1 L292.6,387.6 L291.5,386.1 L290.4,384.7 L289.2,383.2 L288.0,381.8 L286.8,380.4 L285.6,379.0 L284.4,377.7 L283.1,376.4 L281.9,375.1 L280.7,374.0 L279.6,372.9 L278.4,371.8 L277.2,370.8 L276.0,369.8 L274.8,368.8 L273.5,367.8 L272.3,366.9 L271.0,366.0 L269.8,365.1 L268.4,364.2 L267.1,363.3 L265.8,362.5 L264.5,361.7 L263.2,361.1 L262.0,360.5 L261.1,360.1 L260.2,359.9 L259.3,359.6 L258.4,359.4 L257.5,359.3 L256.7,359.1 L255.8,358.9 L254.9,358.7 L254.2,358.8 L253.6,358.8 L252.9,358.8 L252.3,358.9 L251.6,358.9 L251.0,359.0 L250.2,359.1 L249.5,359.2 L248.4,359.4 L247.2,359.7 L245.9,360.0 L244.6,360.4 L243.3,360.8 L242.0,361.2 L240.8,361.6 L239.6,362.0 L238.6,362.4 L237.5,362.7 L236.5,363.0 L235.5,363.4 L234.5,363.8 L233.6,364.2 L232.7,364.7 L231.9,365.3 L231.2,366.0 L230.6,366.7 L230.1,367.5 L229.5,368.4 L229.1,369.3 L228.6,370.2 L228.1,371.1 L227.5,372.0 L226.8,372.9 L226.1,373.8 L225.4,374.7 L224.7,375.6 L224.0,376.5 L223.3,377.5 L222.6,378.5 L222.0,379.5 L221.4,380.7 L220.8,382.0 L220.3,383.3 L219.8,384.6 L219.2,385.9 L218.7,387.3 L218.1,388.5 L217.5,389.7 L216.9,390.7 L216.2,391.7 L215.5,392.6 L214.8,393.5 L214.1,394.3 L213.4,395.2 L212.7,396.1 L212.0,397.0 L211.4,397.8 L210.7,398.7 L210.1,399.5 L209.5,400.3 L208.9,401.1 L208.3,402.0 L207.8,402.9 L207.3,404.0 L206.7,405.6 L206.2,407.4 L205.8,409.4 L205.4,411.4 L205.0,413.5 L204.7,415.7 L204.4,417.9 L204.1,420.0 L203.7,422.4 L203.4,424.8 L203.1,427.3 L202.8,429.7 L202.6,432.3 L202.3,434.8 L202.1,437.4 L201.9,440.0 L201.7,443.0 L201.5,446.1 L201.3,449.4 L201.2,452.7 L201.0,455.8 L200.9,458.8 L200.9,461.4 L200.8,463.5 L200.8,464.3 L200.8,465.1 L200.8,465.7 L200.8,466.4 L200.8,466.9 L200.8,467.5 L200.8,468.1 L200.8,466.5 L318.5,466.5Z"/>
<path stroke="#00008f" d="M425.5,466.9 L425.5,467.5 L425.5,468.0 L425.5,466.5 L429.5,466.5 L429.5,468.1 L429.5,467.5 L429.5,466.9 L429.5,466.5 L508.6,466.5 L508.6,468.0 L508.6,467.4 L508.6,466.8 L508.6,466.2 L508.6,465.6 L508.6,465.0 L508.6,464.3 L508.6,463.5 L508.6,462.1 L508.5,460.6 L508.5,458.9 L508.4,457.1 L508.3,455.3 L508.2,453.5 L508.0,451.7 L507.8,450.0 L507.6,448.4 L507.3,446.8 L507.0,445.2 L506.7,443.6 L506.4,442.0 L506.0,440.3 L505.6,438.7 L505.2,436.9 L504.7,434.6 L504.1,432.3 L503.4,429.8 L502.8,427.3 L502.1,424.8 L501.3,422.3 L500.5,419.7 L499.7,417.2 L498.8,414.5 L497.8,411.8 L496.7,409.0 L495.6,406.3 L494.5,403.5 L493.3,400.8 L492.1,398.0 L490.9,395.3 L489.6,392.5 L488.3,389.5 L486.9,386.5 L485.5,383.6 L484.1,380.7 L482.7,378.0 L481.3,375.5 L480.0,373.4 L479.2,372.2 L478.5,371.1 L477.8,370.1 L477.0,369.2 L476.3,368.3 L475.6,367.5 L474.8,366.7 L474.0,366.0 L473.3,365.4 L472.6,364.9 L471.9,364.4 L471.2,364.0 L470.4,363.6 L469.7,363.2 L468.9,362.8 L468.1,362.5 L467.2,362.2 L466.2,361.9 L465.2,361.7 L464.2,361.6 L463.1,361.4 L462.1,361.2 L461.0,361.1 L460.0,360.9 L458.8,361.1 L457.6,361.2 L456.4,361.3 L455.1,361.4 L453.9,361.6 L452.8,361.8 L451.7,362.1 L450.7,362.5 L449.9,363.0 L449.1,363.5 L448.4,364.2 L447.7,364.8 L447.0,365.6 L446.4,366.3 L445.8,367.2 L445.2,368.0 L444.5,369.1 L443.9,370.2 L443.3,371.4 L442.8,372.7 L442.3,374.0 L441.8,375.3 L441.3,376.6 L440.8,377.9 L440.3,379.2 L439.9,380.5 L439.5,381.8 L439.1,383.2 L438.7,384.5 L438.3,385.9 L437.9,387.3 L437.5,388.8 L437.0,390.7 L436.4,392.7 L435.9,394.8 L435.3,397.0 L434.8,399.1 L434.2,401.1 L433.7,402.9 L433.2,404.5 L432.9,405.3 L432.6,406.1 L432.3,406.7 L432.1,407.4 L431.8,408.0 L431.5,408.6 L431.3,409.3 L431.0,410.0 L430.7,410.8 L430.4,411.7 L430.1,412.6 L429.8,413.5 L429.5,414.4 L429.2,415.3 L428.9,416.3 L428.6,417.3 L428.3,418.5 L428.0,419.7 L427.7,421.0 L427.4,422.3 L427.1,423.6 L426.8,425.0 L426.6,426.6 L426.4,428.3 L425.8,427.1 L425.0,426.0 L424.2,425.0 L423.3,424.1 L422.4,423.1 L421.5,422.2 L420.7,421.1 L420.0,420.0 L419.3,418.5 L418.8,417.0 L418.3,415.4 L417.8,413.7 L417.4,412.0 L417.0,410.3 L416.5,408.6 L416.0,407.0 L415.4,405.5 L414.9,403.9 L414.3,402.4 L413.7,400.9 L413.1,399.4 L412.4,397.9 L411.8,396.5 L411.1,395.2 L410.5,394.1 L409.9,393.0 L409.3,392.0 L408.7,391.0 L408.1,390.0 L407.4,389.1 L406.8,388.1 L406.1,387.1 L405.4,386.1 L404.7,385.1 L403.9,384.0 L403.2,383.0 L402.4,382.0 L401.6,381.0 L400.9,380.1 L400.1,379.1 L399.4,378.2 L398.6,377.3 L397.9,376.4 L397.1,375.5 L396.4,374.6 L395.6,373.8 L394.8,372.9 L394.0,372.1 L393.2,371.3 L392.4,370.5 L391.5,369.7 L390.7,368.9 L389.8,368.2 L388.9,367.4 L388.0,366.7 L387.0,366.1 L386.0,365.5 L384.9,364.9 L383.9,364.3 L382.8,363.8 L381.7,363.3 L380.5,362.9 L379.3,362.4 L378.1,362.0 L376.6,361.5 L375.0,361.1 L373.4,360.7 L371.7,360.4 L370.0,360.0 L368.3,359.7 L366.7,359.4 L365.0,359.0 L364.1,359.2 L363.1,359.3 L362.2,359.4 L361.3,359.5 L360.3,359.7 L359.4,359.8 L358.5,360.1 L357.7,360.4 L356.9,360.8 L356.1,361.2 L355.3,361.7 L354.6,362.3 L353.9,362.9 L353.2,363.5 L352.5,364.1 L351.9,364.8 L351.2,365.6 L350.6,366.4 L350.0,367.3 L349.5,368.2 L348.9,369.2 L348.4,370.1 L348.0,371.1 L347.5,372.1 L347.1,373.1 L346.6,374.2 L346.3,375.2 L345.9,376.3 L345.6,377.4 L345.3,378.6 L344.9,379.7 L344.6,380.9 L344.2,382.3 L343.9,383.8 L343.5,385.3 L343.2,386.8 L342.8,388.4 L342.5,389.9 L342.2,391.5 L341.8,393.0 L341.4,394.5 L341.0,396.0 L340.7,397.5 L340.3,399.0 L339.9,400.5 L339.5,402.0 L339.1,403.5 L338.8,405.0 L338.5,406.6 L338.2,408.1 L337.9,409.7 L337.6,411.2 L337.3,412.8 L337.1,414.5 L336.8,416.2 L336.6,418.0 L336.4,420.5 L336.1,423.1 L336.0,425.8 L335.8,428.6 L335.7,431.4 L335.6,434.3 L335.5,437.2 L335.4,440.0 L335.3,443.0 L335.3,446.2 L335.3,449.5 L335.3,452.8 L335.3,455.9 L335.3,458.8 L335.3,461.4 L335.3,463.5 L335.3,464.3 L335.3,465.1 L335.3,465.7 L335.3,466.3 L335.3,466.9 L335.3,467.5 L335.3,468.1 L335.3,466.5 L425.5,466.5 L425.5,466.9Z"/>
<path stroke="#0000d0" d="M413.5,466.5 L413.5,467.8 L413.5,467.2 L413.6,466.6 L413.6,466.1 L413.6,465.5 L413.6,464.9 L413.6,464.2 L413.5,463.5 L413.3,462.3 L413.1,461.0 L412.8,459.7 L412.4,458.2 L412.1,456.7 L411.7,455.2 L411.3,453.6 L411.0,452.0 L410.6,449.8 L410.2,447.4 L409.8,445.0 L409.4,442.4 L409.0,439.9 L408.6,437.4 L408.1,435.1 L407.7,433.0 L407.4,431.6 L407.0,430.3 L406.7,429.0 L406.4,427.8 L406.0,426.6 L405.7,425.4 L405.4,424.2 L405.0,423.0 L404.6,421.8 L404.3,420.5 L403.9,419.3 L403.5,418.0 L403.1,416.8 L402.8,415.6 L402.4,414.3 L402.0,413.0 L401.6,411.6 L401.2,410.1 L400.8,408.7 L400.4,407.2 L400.0,405.7 L399.5,404.2 L399.1,402.7 L398.6,401.3 L398.1,399.9 L397.6,398.5 L397.1,397.1 L396.6,395.7 L396.0,394.4 L395.4,393.0 L394.8,391.7 L394.2,390.4 L393.6,389.2 L392.9,387.9 L392.2,386.7 L391.5,385.5 L390.8,384.3 L390.0,383.2 L389.2,382.0 L388.4,380.9 L387.6,379.8 L386.7,378.7 L385.8,377.7 L384.9,376.6 L384.0,375.6 L383.0,374.6 L382.1,373.7 L381.1,372.8 L380.2,372.0 L379.4,371.3 L378.5,370.6 L377.6,369.9 L376.7,369.3 L375.7,368.7 L374.8,368.2 L373.8,367.7 L372.8,367.3 L371.7,366.9 L370.6,366.7 L369.5,366.4 L368.4,366.2 L367.2,366.0 L366.1,365.8 L365.0,365.5 L364.3,365.6 L363.5,365.6 L362.8,365.7 L362.0,365.8 L361.3,365.8 L360.6,365.9 L359.9,366.1 L359.2,366.3 L358.6,366.5 L358.0,366.8 L357.4,367.2 L356.9,367.5 L356.4,367.9 L355.8,368.3 L355.3,368.7 L354.8,369.2 L354.2,369.8 L353.6,370.4 L353.0,371.1 L352.5,371.9 L351.9,372.6 L351.4,373.4 L350.9,374.2 L350.4,375.0 L349.9,375.8 L349.4,376.7 L348.9,377.6 L348.5,378.4 L348.1,379.4 L347.6,380.3 L347.2,381.3 L346.8,382.3 L346.3,383.6 L345.8,385.0 L345.4,386.5 L345.0,387.9 L344.5,389.5 L344.1,391.0 L343.7,392.5 L343.3,394.0 L342.9,395.5 L342.5,397.0 L342.1,398.4 L341.7,399.9 L341.3,401.4 L340.9,402.9 L340.5,404.4 L340.2,406.0 L339.9,407.7 L339.5,409.4 L339.2,411.0 L339.0,412.8 L338.7,414.5 L338.4,416.3 L338.2,418.1 L338.0,420.0 L337.8,422.3 L337.6,424.7 L337.4,427.2 L337.3,429.7 L337.2,432.2 L337.1,434.8 L337.0,437.4 L336.9,440.0 L336.8,443.0 L336.8,446.2 L336.8,449.4 L336.8,452.7 L336.8,455.9 L336.8,458.8 L336.8,461.4 L336.8,463.5 L336.8,464.3 L336.8,465.0 L336.8,465.6 L336.8,466.2 L336.8,466.7 L336.8,467.3 L336.8,467.8 L336.8,466.5 L413.5,466.5Z"/>
<path stroke="#0000d0" d="M296.1,467.7 L296.1,467.2 L296.1,466.6 L296.1,466.1 L296.1,465.5 L296.1,464.9 L296.1,464.2 L296.1,463.5 L296.0,462.1 L296.0,460.6 L295.9,459.0 L295.8,457.3 L295.6,455.5 L295.5,453.6 L295.4,451.8 L295.2,450.0 L295.0,448.0 L294.8,445.9 L294.6,443.7 L294.4,441.6 L294.2,439.4 L293.9,437.2 L293.6,435.1 L293.3,433.0 L293.0,431.0 L292.6,429.1 L292.3,427.1 L291.9,425.2 L291.5,423.3 L291.1,421.4 L290.6,419.5 L290.1,417.6 L289.5,415.7 L289.0,413.7 L288.3,411.8 L287.7,409.9 L287.0,408.0 L286.2,406.1 L285.5,404.3 L284.7,402.5 L283.9,400.9 L283.1,399.3 L282.3,397.7 L281.5,396.2 L280.6,394.6 L279.7,393.2 L278.7,391.7 L277.8,390.2 L276.9,388.8 L275.9,387.3 L274.9,385.9 L273.9,384.5 L272.9,383.1 L271.8,381.7 L270.7,380.4 L269.6,379.2 L268.5,378.0 L267.3,376.9 L266.1,375.7 L264.9,374.6 L263.6,373.6 L262.4,372.7 L261.2,371.8 L260.0,371.0 L259.1,370.5 L258.1,370.0 L257.2,369.5 L256.3,369.2 L255.4,368.8 L254.5,368.5 L253.6,368.2 L252.7,368.0 L252.0,367.8 L251.2,367.7 L250.5,367.6 L249.8,367.6 L249.1,367.5 L248.4,367.5 L247.7,367.5 L247.0,367.4 L246.4,367.4 L245.7,367.4 L245.1,367.4 L244.5,367.4 L243.8,367.3 L243.2,367.3 L242.5,367.4 L241.8,367.4 L240.8,367.4 L239.7,367.5 L238.5,367.5 L237.3,367.5 L236.1,367.6 L235.0,367.8 L233.9,368.1 L233.0,368.5 L232.3,369.0 L231.7,369.6 L231.1,370.2 L230.6,370.9 L230.1,371.7 L229.6,372.5 L229.1,373.2 L228.5,374.0 L227.8,374.9 L227.1,375.8 L226.4,376.7 L225.7,377.6 L225.0,378.5 L224.3,379.5 L223.6,380.5 L223.0,381.5 L222.4,382.6 L221.8,383.7 L221.3,384.9 L220.8,386.1 L220.2,387.3 L219.7,388.5 L219.1,389.6 L218.5,390.7 L217.9,391.7 L217.2,392.6 L216.5,393.5 L215.8,394.3 L215.1,395.2 L214.4,396.1 L213.7,396.9 L213.0,397.8 L212.4,398.6 L211.7,399.4 L211.0,400.2 L210.4,400.9 L209.8,401.7 L209.2,402.6 L208.6,403.5 L208.1,404.5 L207.5,406.1 L206.9,407.8 L206.5,409.7 L206.1,411.7 L205.7,413.7 L205.4,415.8 L205.0,417.9 L204.7,420.0 L204.3,422.4 L204.0,424.8 L203.7,427.2 L203.4,429.7 L203.1,432.3 L202.9,434.8 L202.6,437.4 L202.4,440.0 L202.2,443.0 L202.0,446.2 L201.8,449.4 L201.7,452.7 L201.5,455.9 L201.4,458.8 L201.4,461.4 L201.3,463.5 L201.3,464.3 L201.3,465.0 L201.3,465.6 L201.3,466.1 L201.3,466.7 L201.3,467.2 L201.3,467.7 L201.3,466.5 L296.1,466.5 L296.1,467.7Z"/>
<path stroke="#0000d0" d="M495.9,467.7 L495.9,467.1 L495.9,466.6 L495.9,466.0 L495.9,465.4 L495.9,464.8 L495.9,464.2 L495.9,463.5 L495.8,462.3 L495.8,461.0 L495.7,459.6 L495.6,458.2 L495.4,456.6 L495.3,455.1 L495.2,453.5 L495.0,452.0 L494.8,450.2 L494.6,448.5 L494.4,446.7 L494.2,444.8 L494.0,442.9 L493.7,441.0 L493.4,439.0 L493.1,436.9 L492.6,433.9 L492.0,430.8 L491.4,427.5 L490.8,424.1 L490.1,420.7 L489.3,417.2 L488.5,413.9 L487.7,410.6 L486.9,407.4 L486.0,404.1 L485.1,400.8 L484.2,397.5 L483.2,394.4 L482.2,391.4 L481.1,388.8 L480.0,386.6 L479.3,385.5 L478.6,384.5 L477.9,383.7 L477.2,382.9 L476.4,382.2 L475.6,381.5 L474.8,380.8 L474.0,380.0 L473.1,379.1 L472.1,378.3 L471.1,377.5 L470.1,376.6 L469.0,375.8 L468.0,375.0 L467.0,374.3 L466.0,373.5 L465.1,372.8 L464.2,372.2 L463.4,371.6 L462.5,371.0 L461.6,370.4 L460.7,369.8 L459.9,369.2 L459.0,368.6 L458.4,368.6 L457.8,368.5 L457.1,368.5 L456.5,368.4 L455.9,368.4 L455.3,368.4 L454.6,368.5 L454.0,368.6 L453.2,368.9 L452.3,369.2 L451.5,369.6 L450.6,370.1 L449.8,370.6 L449.0,371.1 L448.2,371.8 L447.4,372.4 L446.6,373.2 L445.9,374.0 L445.1,374.8 L444.4,375.8 L443.8,376.8 L443.1,377.8 L442.5,378.9 L441.9,380.1 L441.1,381.9 L440.4,384.0 L439.7,386.3 L439.0,388.7 L438.4,391.0 L437.7,393.4 L437.1,395.6 L436.4,397.6 L435.8,399.0 L435.2,400.4 L434.6,401.7 L434.0,402.9 L433.4,404.1 L432.8,405.4 L432.3,406.7 L431.8,408.0 L431.4,409.4 L431.0,410.8 L430.7,412.3 L430.4,413.7 L430.1,415.2 L429.9,416.7 L429.7,418.3 L429.5,420.0 L429.3,422.2 L429.1,424.6 L429.0,427.0 L429.0,429.6 L428.9,432.2 L428.9,434.8 L428.8,437.4 L428.8,440.0 L428.7,443.0 L428.7,446.2 L428.7,449.5 L428.6,452.7 L428.6,455.9 L428.6,458.8 L428.6,461.4 L428.6,463.5 L428.6,464.3 L428.6,464.9 L428.6,465.5 L428.6,466.1 L428.6,466.6 L428.6,467.1 L428.6,467.7 L428.6,466.5 L495.9,466.5 L495.9,467.7Z"/>
<path stroke="#0a32d2" d="M404.3,466.5 L404.3,467.5 L404.3,467.0 L404.3,466.5 L404.4,466.0 L404.4,465.4 L404.4,464.8 L404.3,464.2 L404.3,463.5 L404.1,461.8 L403.9,459.8 L403.5,457.5 L403.1,455.1 L402.7,452.5 L402.3,450.0 L401.9,447.4 L401.5,445.0 L401.1,442.5 L400.8,440.0 L400.4,437.4 L400.1,434.9 L399.7,432.3 L399.4,429.8 L399.0,427.4 L398.6,425.0 L398.3,423.0 L397.9,421.1 L397.6,419.2 L397.3,417.3 L397.0,415.4 L396.6,413.6 L396.2,411.8 L395.7,410.1 L395.2,408.5 L394.7,407.0 L394.2,405.5 L393.7,404.0 L393.1,402.5 L392.5,401.1 L391.9,399.7 L391.3,398.4 L390.8,397.3 L390.3,396.3 L389.8,395.3 L389.3,394.3 L388.7,393.3 L388.1,392.4 L387.5,391.4 L386.9,390.4 L386.1,389.2 L385.3,388.0 L384.4,386.7 L383.5,385.5 L382.5,384.3 L381.6,383.1 L380.6,381.9 L379.6,380.9 L378.7,380.0 L377.9,379.2 L377.0,378.4 L376.1,377.6 L375.1,376.8 L374.2,376.2 L373.3,375.5 L372.3,375.0 L371.4,374.6 L370.5,374.2 L369.6,374.0 L368.7,373.7 L367.8,373.5 L366.8,373.3 L365.9,373.1 L365.0,372.8 L364.1,373.0 L363.1,373.1 L362.2,373.2 L361.3,373.3 L360.3,373.5 L359.4,373.7 L358.5,373.9 L357.7,374.3 L356.9,374.8 L356.1,375.3 L355.3,375.9 L354.6,376.5 L353.9,377.2 L353.2,377.9 L352.5,378.7 L351.9,379.4 L351.3,380.2 L350.6,381.1 L350.1,382.0 L349.5,382.9 L349.0,383.8 L348.5,384.8 L348.0,385.7 L347.5,386.7 L347.1,387.7 L346.6,388.7 L346.2,389.7 L345.9,390.7 L345.5,391.7 L345.2,392.8 L344.8,393.9 L344.5,395.0 L344.1,396.4 L343.7,397.8 L343.3,399.3 L342.9,400.8 L342.5,402.4 L342.2,403.9 L341.8,405.5 L341.5,407.0 L341.2,408.6 L340.9,410.1 L340.6,411.7 L340.3,413.3 L340.0,414.9 L339.7,416.5 L339.5,418.2 L339.3,420.0 L339.1,422.3 L338.9,424.7 L338.7,427.1 L338.6,429.6 L338.5,432.2 L338.4,434.8 L338.4,437.4 L338.3,440.0 L338.2,443.0 L338.2,446.2 L338.2,449.5 L338.2,452.8 L338.2,455.9 L338.2,458.9 L338.2,461.4 L338.2,463.5 L338.2,464.2 L338.2,464.9 L338.2,465.5 L338.2,466.0 L338.2,466.5 L338.2,467.0 L338.2,467.5 L338.2,466.5 L404.3,466.5Z"/>
<path stroke="#0a32d2" d="M284.7,467.4 L284.7,466.9 L284.7,466.4 L284.7,465.9 L284.7,465.4 L284.7,464.8 L284.7,464.2 L284.7,463.5 L284.6,461.4 L284.4,458.9 L284.1,456.0 L283.8,452.8 L283.4,449.5 L283.0,446.2 L282.7,443.0 L282.3,440.0 L282.0,437.4 L281.7,434.8 L281.3,432.3 L281.0,429.7 L280.6,427.2 L280.2,424.8 L279.7,422.4 L279.2,420.0 L278.6,417.9 L278.1,415.8 L277.4,413.7 L276.7,411.6 L276.0,409.6 L275.3,407.7 L274.5,405.8 L273.7,403.9 L272.9,402.2 L272.1,400.6 L271.3,398.9 L270.5,397.3 L269.6,395.8 L268.7,394.3 L267.7,392.9 L266.8,391.6 L266.0,390.6 L265.2,389.6 L264.4,388.7 L263.5,387.9 L262.6,387.1 L261.8,386.3 L260.9,385.5 L260.0,384.7 L259.1,383.9 L258.3,383.1 L257.4,382.4 L256.5,381.6 L255.6,380.9 L254.7,380.2 L253.7,379.6 L252.7,379.0 L251.4,378.4 L250.1,377.9 L248.6,377.4 L247.1,377.0 L245.6,376.6 L244.2,376.2 L242.9,376.0 L241.8,375.7 L241.2,375.6 L240.7,375.5 L240.2,375.4 L239.8,375.3 L239.3,375.3 L238.9,375.2 L238.5,375.2 L238.0,375.1 L237.2,375.1 L236.4,375.0 L235.6,374.9 L234.8,374.9 L234.0,374.8 L233.2,374.8 L232.5,374.9 L231.9,375.1 L231.4,375.3 L231.1,375.6 L230.7,375.9 L230.4,376.3 L230.0,376.7 L229.7,377.1 L229.4,377.6 L229.0,378.0 L228.5,378.6 L227.9,379.3 L227.4,380.0 L226.8,380.8 L226.2,381.6 L225.6,382.4 L225.1,383.2 L224.5,384.0 L223.9,384.9 L223.3,385.9 L222.7,386.9 L222.0,387.9 L221.4,388.9 L220.8,389.9 L220.2,390.9 L219.5,391.8 L218.8,392.7 L218.2,393.5 L217.5,394.4 L216.8,395.2 L216.1,396.0 L215.4,396.8 L214.7,397.7 L214.0,398.5 L213.3,399.3 L212.7,400.0 L212.0,400.8 L211.3,401.5 L210.7,402.3 L210.0,403.1 L209.4,404.0 L208.9,405.0 L208.2,406.5 L207.7,408.2 L207.2,410.0 L206.7,411.9 L206.3,413.9 L205.9,415.9 L205.6,418.0 L205.2,420.0 L204.8,422.3 L204.5,424.7 L204.1,427.2 L203.8,429.7 L203.6,432.2 L203.3,434.8 L203.1,437.4 L202.9,440.0 L202.7,443.0 L202.5,446.2 L202.3,449.5 L202.2,452.8 L202.0,456.0 L201.9,458.9 L201.9,461.4 L201.8,463.5 L201.8,464.2 L201.8,464.9 L201.8,465.4 L201.8,465.9 L201.8,466.4 L201.8,466.9 L201.8,467.4 L201.8,466.5 L284.7,466.5 L284.7,467.4Z"/>
<path stroke="#0a32d2" d="M487.8,467.2 L487.8,466.8 L487.8,466.3 L487.8,465.8 L487.8,465.3 L487.8,464.8 L487.8,464.2 L487.8,463.5 L487.8,461.3 L487.7,458.4 L487.7,455.1 L487.6,451.5 L487.5,447.7 L487.3,444.0 L487.0,440.3 L486.7,437.0 L486.3,434.1 L485.9,431.3 L485.5,428.5 L485.0,425.8 L484.4,423.1 L483.8,420.4 L483.1,417.7 L482.4,415.1 L481.6,412.5 L480.8,409.9 L480.0,407.4 L479.1,404.8 L478.1,402.3 L477.0,399.9 L475.9,397.6 L474.7,395.4 L473.5,393.5 L472.2,391.6 L470.9,389.7 L469.4,387.9 L468.0,386.2 L466.6,384.7 L465.2,383.3 L463.8,382.2 L462.9,381.6 L462.1,381.1 L461.2,380.7 L460.4,380.3 L459.5,380.0 L458.7,379.7 L457.8,379.4 L457.0,379.0 L456.5,379.0 L456.0,378.9 L455.5,378.9 L455.0,378.9 L454.5,378.8 L453.9,378.8 L453.4,378.9 L452.9,379.0 L452.2,379.2 L451.5,379.5 L450.8,379.8 L450.1,380.2 L449.4,380.6 L448.7,381.1 L448.0,381.7 L447.4,382.3 L446.6,383.2 L445.9,384.3 L445.2,385.6 L444.5,386.9 L443.9,388.2 L443.2,389.6 L442.6,390.9 L441.9,392.1 L441.3,393.1 L440.6,394.1 L440.0,395.1 L439.3,396.0 L438.7,397.0 L438.1,397.9 L437.5,399.0 L437.0,400.0 L436.5,401.2 L436.0,402.4 L435.5,403.6 L435.1,404.8 L434.7,406.1 L434.3,407.4 L433.9,408.7 L433.5,410.0 L433.1,411.4 L432.7,412.8 L432.3,414.3 L432.0,415.8 L431.6,417.3 L431.3,418.8 L431.0,420.4 L430.8,422.0 L430.6,424.1 L430.4,426.2 L430.3,428.4 L430.2,430.6 L430.2,432.9 L430.2,435.2 L430.1,437.6 L430.1,440.0 L430.1,442.9 L430.0,446.1 L430.0,449.4 L430.0,452.7 L430.0,455.9 L430.0,458.9 L430.0,461.5 L430.0,463.5 L430.0,464.2 L430.0,464.8 L430.0,465.3 L430.0,465.8 L430.0,466.3 L430.0,466.7 L430.0,467.2 L430.0,466.5 L487.8,466.5 L487.8,467.2Z"/>
<path stroke="#0f8442" d="M396.5,466.5 L396.5,467.1 L396.5,466.6 L396.5,466.2 L396.6,465.7 L396.6,465.3 L396.6,464.7 L396.5,464.2 L396.5,463.5 L396.3,461.7 L396.1,459.5 L395.7,457.0 L395.3,454.2 L394.9,451.4 L394.4,448.7 L393.9,446.0 L393.5,443.6 L393.1,441.8 L392.8,440.0 L392.4,438.3 L392.1,436.7 L391.7,435.0 L391.3,433.4 L390.9,431.7 L390.5,430.0 L390.1,428.2 L389.7,426.3 L389.2,424.5 L388.8,422.6 L388.4,420.7 L387.9,418.8 L387.4,417.0 L386.9,415.1 L386.4,413.2 L385.8,411.2 L385.3,409.2 L384.7,407.3 L384.1,405.3 L383.4,403.5 L382.8,401.7 L382.1,400.0 L381.5,398.7 L381.0,397.5 L380.4,396.4 L379.8,395.3 L379.2,394.2 L378.5,393.1 L377.8,392.1 L377.1,391.1 L376.3,390.1 L375.5,389.1 L374.7,388.2 L373.8,387.2 L372.9,386.3 L372.0,385.5 L371.0,384.8 L370.1,384.1 L369.3,383.6 L368.5,383.3 L367.7,382.9 L366.9,382.7 L366.1,382.4 L365.2,382.2 L364.4,381.9 L363.6,381.6 L362.7,381.8 L361.7,381.9 L360.8,382.0 L359.8,382.2 L358.9,382.3 L358.0,382.5 L357.1,382.8 L356.3,383.1 L355.7,383.4 L355.1,383.8 L354.5,384.3 L354.0,384.8 L353.5,385.3 L353.0,385.7 L352.4,386.2 L351.9,386.7 L351.3,387.1 L350.7,387.6 L350.2,388.0 L349.6,388.5 L349.0,388.9 L348.4,389.4 L347.9,389.9 L347.5,390.4 L347.1,391.0 L346.8,391.5 L346.5,392.1 L346.3,392.8 L346.0,393.4 L345.8,394.1 L345.6,394.8 L345.3,395.5 L344.9,396.5 L344.6,397.6 L344.2,398.7 L343.8,399.9 L343.5,401.1 L343.1,402.4 L342.8,403.7 L342.5,405.0 L342.2,406.7 L341.9,408.4 L341.6,410.3 L341.3,412.1 L341.1,414.1 L340.9,416.0 L340.7,418.0 L340.5,420.0 L340.3,422.3 L340.2,424.8 L340.1,427.2 L340.0,429.7 L339.9,432.3 L339.8,434.8 L339.8,437.4 L339.7,440.0 L339.6,443.0 L339.6,446.2 L339.6,449.5 L339.6,452.8 L339.6,456.0 L339.6,458.9 L339.6,461.5 L339.6,463.5 L339.6,464.2 L339.6,464.8 L339.6,465.3 L339.6,465.8 L339.6,466.2 L339.6,466.7 L339.6,467.1 L339.6,466.5 L396.5,466.5Z"/>
<path stroke="#0f8442" d="M273.3,467.1 L273.3,466.6 L273.3,466.2 L273.3,465.7 L273.3,465.3 L273.3,464.7 L273.3,464.2 L273.3,463.5 L273.2,461.6 L273.1,459.2 L273.0,456.6 L272.8,453.6 L272.5,450.6 L272.3,447.6 L272.0,444.7 L271.6,442.0 L271.2,439.8 L270.8,437.6 L270.4,435.5 L269.9,433.3 L269.4,431.3 L268.9,429.2 L268.3,427.1 L267.7,425.0 L267.0,422.8 L266.3,420.6 L265.6,418.4 L264.8,416.2 L264.0,414.0 L263.2,411.9 L262.4,409.8 L261.5,407.9 L260.8,406.4 L260.1,404.9 L259.4,403.5 L258.6,402.1 L257.9,400.8 L257.1,399.5 L256.2,398.3 L255.3,397.0 L254.3,395.7 L253.3,394.5 L252.2,393.3 L251.0,392.1 L249.9,390.9 L248.6,389.8 L247.3,388.8 L246.0,387.8 L244.5,386.9 L242.9,386.1 L241.3,385.3 L239.6,384.6 L237.9,383.9 L236.2,383.3 L234.5,382.6 L232.8,381.9 L232.2,382.6 L231.5,383.3 L230.9,384.0 L230.3,384.7 L229.7,385.4 L229.0,386.1 L228.3,386.7 L227.6,387.2 L226.8,387.6 L226.0,387.9 L225.2,388.2 L224.3,388.4 L223.4,388.7 L222.6,389.0 L221.8,389.4 L221.0,389.9 L220.1,390.8 L219.3,391.9 L218.6,393.1 L217.8,394.4 L217.1,395.8 L216.5,397.1 L215.7,398.4 L215.0,399.5 L214.3,400.4 L213.6,401.2 L212.9,401.9 L212.2,402.6 L211.5,403.4 L210.9,404.2 L210.3,405.0 L209.7,406.0 L209.0,407.4 L208.4,409.0 L207.9,410.7 L207.4,412.4 L207.0,414.3 L206.6,416.2 L206.2,418.1 L205.8,420.0 L205.4,422.3 L205.0,424.7 L204.7,427.1 L204.4,429.7 L204.1,432.2 L203.9,434.8 L203.6,437.4 L203.4,440.0 L203.2,443.0 L203.0,446.2 L202.8,449.5 L202.7,452.8 L202.5,456.0 L202.4,458.9 L202.4,461.5 L202.3,463.5 L202.3,464.2 L202.3,464.8 L202.3,465.3 L202.3,465.7 L202.3,466.2 L202.3,466.6 L202.3,467.1 L202.3,466.5 L273.3,466.5 L273.3,467.1Z"/>
<path stroke="#0f8442" d="M480.9,466.8 L480.9,466.4 L480.9,466.0 L480.9,465.6 L480.9,465.2 L480.9,464.7 L480.9,464.1 L480.9,463.5 L480.8,461.0 L480.8,457.7 L480.7,453.8 L480.6,449.6 L480.4,445.1 L480.1,440.6 L479.6,436.4 L479.1,432.6 L478.5,429.6 L477.9,426.7 L477.1,423.9 L476.3,421.1 L475.4,418.4 L474.5,415.7 L473.5,413.2 L472.5,410.7 L471.6,408.6 L470.6,406.4 L469.6,404.4 L468.5,402.3 L467.4,400.4 L466.2,398.6 L465.0,396.9 L463.8,395.4 L462.8,394.3 L461.7,393.4 L460.6,392.6 L459.5,391.8 L458.4,391.1 L457.2,390.3 L456.1,389.6 L455.0,388.8 L454.7,388.8 L454.5,388.8 L454.3,388.8 L454.0,388.7 L453.8,388.7 L453.5,388.7 L453.2,388.8 L452.9,388.8 L452.3,388.9 L451.7,389.1 L451.0,389.3 L450.2,389.6 L449.5,389.9 L448.7,390.2 L448.0,390.6 L447.4,391.0 L446.8,391.5 L446.2,392.1 L445.6,392.8 L445.1,393.5 L444.6,394.3 L444.1,395.1 L443.5,395.8 L443.0,396.5 L442.4,397.2 L441.8,397.8 L441.3,398.5 L440.7,399.1 L440.1,399.8 L439.5,400.5 L439.0,401.2 L438.5,402.0 L437.9,403.1 L437.4,404.2 L436.9,405.4 L436.4,406.7 L436.0,408.0 L435.6,409.3 L435.2,410.7 L434.8,412.0 L434.4,413.4 L434.0,414.9 L433.6,416.3 L433.3,417.8 L433.0,419.3 L432.7,420.8 L432.4,422.4 L432.2,424.0 L432.0,425.9 L431.8,427.8 L431.7,429.7 L431.7,431.7 L431.6,433.7 L431.6,435.7 L431.5,437.8 L431.5,440.0 L431.4,442.9 L431.4,446.0 L431.4,449.4 L431.4,452.7 L431.4,456.0 L431.4,458.9 L431.4,461.5 L431.4,463.5 L431.4,464.1 L431.4,464.7 L431.4,465.1 L431.4,465.6 L431.4,466.0 L431.4,466.4 L431.4,466.8 L431.4,466.5 L480.9,466.5 L480.9,466.8Z"/>
<path stroke="#3fc81c" d="M388.5,466.5 L388.5,466.7 L388.5,466.3 L388.5,465.9 L388.5,465.5 L388.5,465.1 L388.5,464.6 L388.5,464.1 L388.5,463.5 L388.5,461.9 L388.4,459.8 L388.3,457.5 L388.3,455.0 L388.1,452.4 L388.0,449.8 L387.8,447.3 L387.6,445.0 L387.4,443.0 L387.1,441.1 L386.9,439.2 L386.6,437.3 L386.2,435.4 L385.9,433.6 L385.5,431.8 L385.0,430.0 L384.5,428.4 L384.0,426.7 L383.4,425.2 L382.8,423.6 L382.2,422.0 L381.5,420.5 L380.9,419.0 L380.2,417.4 L379.5,415.8 L378.9,414.2 L378.2,412.6 L377.5,411.0 L376.8,409.4 L376.1,407.9 L375.3,406.4 L374.5,405.0 L373.8,403.9 L373.0,402.8 L372.3,401.7 L371.5,400.7 L370.7,399.8 L369.8,398.8 L368.9,397.9 L368.0,397.0 L367.0,396.1 L365.9,395.2 L364.8,394.4 L363.6,393.6 L362.5,392.8 L361.3,392.0 L360.1,391.2 L359.0,390.4 L358.2,390.5 L357.5,390.5 L356.7,390.5 L355.9,390.6 L355.1,390.6 L354.4,390.7 L353.7,390.8 L353.0,391.0 L352.4,391.2 L351.9,391.4 L351.4,391.6 L350.9,391.8 L350.4,392.1 L349.9,392.4 L349.5,392.7 L349.0,393.0 L348.5,393.4 L348.0,393.7 L347.6,394.1 L347.1,394.5 L346.7,395.0 L346.3,395.5 L345.9,396.0 L345.5,396.5 L345.1,397.2 L344.7,397.9 L344.4,398.7 L344.1,399.5 L343.8,400.3 L343.5,401.2 L343.2,402.1 L343.0,403.0 L342.7,404.3 L342.5,405.6 L342.2,407.0 L342.1,408.5 L341.9,410.0 L341.8,411.6 L341.6,413.3 L341.5,415.0 L341.3,417.7 L341.2,420.6 L341.2,423.7 L341.1,427.0 L341.1,430.3 L341.1,433.6 L341.1,436.8 L341.1,440.0 L341.1,443.1 L341.1,446.4 L341.1,449.8 L341.1,453.1 L341.1,456.2 L341.1,459.1 L341.1,461.5 L341.1,463.5 L341.1,464.1 L341.1,464.6 L341.1,465.1 L341.1,465.5 L341.1,465.9 L341.1,466.3 L341.1,466.5 L388.5,466.5Z"/>
<path stroke="#3fc81c" d="M262.0,466.7 L262.0,466.2 L262.0,465.8 L262.0,465.4 L262.0,465.0 L262.0,464.5 L262.0,464.0 L262.0,463.5 L261.9,462.4 L261.8,461.1 L261.7,459.8 L261.6,458.3 L261.4,456.8 L261.3,455.2 L261.0,453.6 L260.8,452.0 L260.4,450.0 L260.0,447.8 L259.6,445.6 L259.1,443.4 L258.5,441.1 L258.0,438.8 L257.4,436.5 L256.9,434.3 L256.4,432.1 L255.8,429.9 L255.3,427.8 L254.7,425.6 L254.2,423.4 L253.5,421.3 L252.9,419.2 L252.2,417.2 L251.5,415.3 L250.8,413.5 L250.1,411.7 L249.4,409.9 L248.6,408.1 L247.8,406.4 L246.9,404.8 L246.0,403.3 L245.1,402.0 L244.2,400.8 L243.3,399.6 L242.3,398.5 L241.3,397.4 L240.3,396.4 L239.3,395.5 L238.3,394.7 L237.5,394.2 L236.8,393.7 L236.0,393.3 L235.2,393.0 L234.4,392.6 L233.7,392.3 L232.9,392.0 L232.1,391.6 L231.7,391.9 L231.3,392.1 L230.9,392.4 L230.5,392.7 L230.1,393.0 L229.7,393.2 L229.2,393.5 L228.7,393.7 L227.9,394.0 L227.0,394.1 L226.0,394.3 L224.9,394.4 L223.9,394.6 L222.8,394.7 L221.9,395.0 L221.0,395.4 L220.3,395.9 L219.6,396.4 L218.9,397.0 L218.3,397.7 L217.8,398.4 L217.2,399.1 L216.6,399.8 L216.0,400.5 L215.3,401.3 L214.6,402.1 L214.0,402.9 L213.3,403.7 L212.6,404.6 L212.0,405.5 L211.4,406.5 L210.8,407.5 L210.1,408.8 L209.5,410.2 L208.9,411.7 L208.3,413.3 L207.8,414.9 L207.3,416.5 L206.8,418.2 L206.4,420.0 L205.9,422.2 L205.5,424.6 L205.2,427.1 L204.9,429.6 L204.6,432.2 L204.3,434.8 L204.1,437.4 L203.9,440.0 L203.7,443.0 L203.5,446.2 L203.3,449.6 L203.1,452.9 L203.0,456.1 L202.9,459.0 L202.9,461.5 L202.8,463.5 L202.8,464.1 L202.8,464.6 L202.8,465.1 L202.8,465.5 L202.8,465.9 L202.8,466.3 L202.8,466.7 L202.8,466.5 L262.0,466.5 L262.0,466.7Z"/>
<path stroke="#3fc81c" d="M474.5,466.3 L474.5,465.9 L474.5,465.6 L474.5,465.2 L474.5,464.8 L474.5,464.4 L474.5,464.0 L474.5,463.5 L474.5,462.4 L474.4,461.2 L474.3,459.8 L474.2,458.3 L474.1,456.7 L474.0,455.1 L473.8,453.5 L473.6,452.0 L473.3,450.3 L473.1,448.6 L472.7,446.9 L472.4,445.1 L472.0,443.4 L471.6,441.6 L471.2,439.8 L470.8,438.0 L470.3,436.0 L469.9,433.9 L469.4,431.8 L468.9,429.7 L468.3,427.6 L467.8,425.5 L467.1,423.5 L466.5,421.5 L465.9,419.7 L465.2,417.8 L464.6,416.0 L463.9,414.2 L463.2,412.5 L462.4,410.8 L461.5,409.2 L460.6,407.8 L459.7,406.7 L458.8,405.6 L457.7,404.7 L456.7,403.8 L455.6,402.9 L454.5,402.1 L453.4,401.2 L452.4,400.3 L451.2,400.4 L449.9,400.4 L448.6,400.4 L447.3,400.4 L446.1,400.5 L444.9,400.6 L443.8,400.7 L442.8,401.0 L442.1,401.3 L441.5,401.6 L441.0,401.9 L440.4,402.2 L439.9,402.6 L439.4,403.1 L439.0,403.5 L438.5,404.0 L438.0,404.6 L437.5,405.3 L437.0,406.0 L436.5,406.7 L436.1,407.5 L435.7,408.3 L435.3,409.1 L435.0,410.0 L434.7,411.1 L434.4,412.2 L434.1,413.4 L434.0,414.6 L433.8,415.9 L433.7,417.2 L433.5,418.6 L433.4,420.0 L433.2,422.2 L433.1,424.5 L433.0,426.9 L433.0,429.5 L433.0,432.1 L432.9,434.7 L432.9,437.4 L432.9,440.0 L432.9,443.0 L432.8,446.3 L432.8,449.6 L432.8,453.0 L432.8,456.2 L432.8,459.1 L432.8,461.6 L432.8,463.5 L432.8,464.0 L432.8,464.5 L432.8,464.9 L432.8,465.3 L432.8,465.6 L432.8,465.9 L432.8,466.3 L432.8,466.5 L474.5,466.5 L474.5,466.3Z"/>
<path stroke="#d0ea00" d="M382.5,466.5 L382.5,466.3 L382.5,466.0 L382.5,465.6 L382.5,465.3 L382.5,464.9 L382.5,464.5 L382.5,464.0 L382.5,463.5 L382.5,461.7 L382.4,459.3 L382.4,456.6 L382.3,453.5 L382.2,450.4 L382.0,447.4 L381.8,444.5 L381.6,442.0 L381.4,440.3 L381.2,438.7 L381.0,437.1 L380.7,435.6 L380.5,434.2 L380.2,432.8 L379.9,431.4 L379.5,430.0 L379.2,428.9 L378.8,427.8 L378.5,426.7 L378.1,425.7 L377.7,424.7 L377.2,423.6 L376.7,422.6 L376.1,421.5 L375.1,420.0 L374.0,418.4 L372.7,416.8 L371.4,415.2 L370.0,413.6 L368.6,412.0 L367.3,410.5 L366.0,409.0 L364.9,407.7 L363.9,406.4 L362.8,405.2 L361.8,404.0 L360.8,402.8 L359.8,401.5 L358.7,400.3 L357.7,399.1 L357.0,399.2 L356.2,399.2 L355.5,399.3 L354.7,399.3 L354.0,399.4 L353.2,399.5 L352.6,399.6 L351.9,399.9 L351.3,400.3 L350.7,400.7 L350.1,401.3 L349.5,401.9 L349.0,402.5 L348.5,403.1 L348.0,403.7 L347.5,404.2 L347.1,404.6 L346.8,404.9 L346.5,405.2 L346.1,405.5 L345.8,405.8 L345.5,406.2 L345.3,406.6 L345.0,407.0 L344.6,407.7 L344.3,408.6 L344.0,409.5 L343.8,410.4 L343.6,411.5 L343.4,412.6 L343.2,413.7 L343.0,415.0 L342.8,417.5 L342.6,420.3 L342.5,423.4 L342.5,426.7 L342.5,430.1 L342.6,433.5 L342.6,436.8 L342.6,440.0 L342.6,443.1 L342.6,446.4 L342.6,449.8 L342.6,453.1 L342.6,456.3 L342.6,459.2 L342.6,461.6 L342.6,463.5 L342.6,464.0 L342.6,464.5 L342.6,464.9 L342.6,465.3 L342.6,465.6 L342.6,466.0 L342.6,466.3 L342.6,466.5 L382.5,466.5Z"/>
<path stroke="#d0ea00" d="M251.3,466.3 L251.3,465.9 L251.3,465.6 L251.3,465.3 L251.3,464.9 L251.3,464.5 L251.3,464.0 L251.3,463.5 L251.3,461.7 L251.4,459.4 L251.5,456.7 L251.5,453.7 L251.6,450.6 L251.5,447.6 L251.4,444.6 L251.2,442.0 L250.9,439.9 L250.6,437.9 L250.2,435.9 L249.8,434.0 L249.3,432.1 L248.8,430.2 L248.2,428.4 L247.6,426.5 L247.0,424.7 L246.3,422.8 L245.6,421.0 L244.9,419.2 L244.1,417.5 L243.3,415.8 L242.4,414.1 L241.4,412.6 L240.4,411.2 L239.3,409.8 L238.1,408.5 L236.9,407.2 L235.7,406.1 L234.4,405.0 L233.2,404.1 L232.1,403.3 L231.4,402.9 L230.7,402.6 L229.9,402.3 L229.2,402.1 L228.5,401.9 L227.9,401.7 L227.2,401.6 L226.5,401.4 L225.9,401.3 L225.3,401.1 L224.8,401.0 L224.2,400.9 L223.7,400.8 L223.1,400.7 L222.6,400.6 L222.0,400.5 L221.3,400.7 L220.6,400.9 L219.9,401.1 L219.2,401.3 L218.5,401.5 L217.8,401.8 L217.1,402.1 L216.5,402.5 L215.8,403.1 L215.1,403.7 L214.5,404.5 L213.8,405.3 L213.2,406.2 L212.6,407.1 L212.1,408.0 L211.5,409.0 L210.8,410.3 L210.2,411.6 L209.6,413.0 L209.0,414.5 L208.4,416.1 L207.9,417.7 L207.4,419.3 L207.0,421.0 L206.5,423.1 L206.1,425.4 L205.7,427.7 L205.4,430.1 L205.1,432.5 L204.9,435.0 L204.6,437.5 L204.4,440.0 L204.2,443.0 L204.0,446.2 L203.8,449.6 L203.6,453.0 L203.5,456.2 L203.4,459.1 L203.3,461.6 L203.3,463.5 L203.3,464.0 L203.3,464.5 L203.3,464.9 L203.3,465.3 L203.3,465.6 L203.3,465.9 L203.3,466.3 L203.3,466.5 L251.3,466.5 L251.3,466.3Z"/>
<path stroke="#d0ea00" d="M469.0,465.9 L469.0,465.6 L469.0,465.3 L469.0,465.0 L469.0,464.7 L469.0,464.4 L469.0,464.0 L469.0,463.5 L468.9,461.8 L468.7,459.5 L468.5,456.8 L468.2,453.8 L467.9,450.7 L467.5,447.6 L467.2,444.7 L466.8,442.0 L466.5,439.8 L466.2,437.6 L465.8,435.5 L465.5,433.4 L465.1,431.4 L464.7,429.4 L464.2,427.4 L463.6,425.6 L463.1,424.1 L462.5,422.5 L461.9,421.1 L461.2,419.6 L460.5,418.3 L459.7,417.0 L458.9,415.8 L457.9,414.7 L456.8,413.8 L455.7,413.0 L454.4,412.3 L453.0,411.6 L451.7,411.0 L450.3,410.5 L448.9,409.9 L447.6,409.2 L446.8,409.4 L446.0,409.7 L445.2,409.9 L444.5,410.1 L443.7,410.3 L442.9,410.6 L442.1,410.9 L441.4,411.2 L440.7,411.5 L439.9,411.9 L439.1,412.3 L438.4,412.7 L437.7,413.1 L437.0,413.6 L436.5,414.1 L436.0,414.7 L435.7,415.2 L435.4,415.8 L435.3,416.4 L435.1,417.0 L435.0,417.7 L435.0,418.4 L434.9,419.2 L434.8,420.0 L434.6,421.9 L434.5,424.1 L434.5,426.5 L434.5,429.1 L434.5,431.8 L434.5,434.6 L434.5,437.3 L434.5,440.0 L434.5,443.0 L434.5,446.3 L434.4,449.7 L434.4,453.1 L434.4,456.3 L434.4,459.2 L434.4,461.7 L434.4,463.5 L434.4,464.0 L434.4,464.4 L434.4,464.7 L434.4,465.0 L434.4,465.3 L434.4,465.6 L434.4,465.9 L434.4,466.5 L469.0,466.5 L469.0,465.9Z"/>
<path stroke="#ffc800" d="M376.1,466.5 L376.1,466.0 L376.1,465.7 L376.1,465.4 L376.1,465.1 L376.1,464.8 L376.1,464.4 L376.1,464.0 L376.1,463.5 L376.1,461.3 L376.0,458.2 L376.0,454.5 L375.9,450.4 L375.7,446.2 L375.5,442.1 L375.2,438.4 L374.7,435.2 L374.3,433.4 L373.9,431.7 L373.5,430.1 L373.1,428.5 L372.5,427.0 L372.0,425.6 L371.3,424.3 L370.6,422.9 L369.8,421.7 L368.9,420.5 L368.0,419.3 L367.0,418.2 L366.0,417.2 L365.0,416.1 L364.0,415.1 L363.0,414.0 L362.1,413.0 L361.3,412.1 L360.5,411.1 L359.6,410.2 L358.8,409.2 L358.0,408.3 L357.1,407.3 L356.3,406.4 L355.5,406.5 L354.7,406.6 L353.8,406.7 L353.0,406.8 L352.2,406.9 L351.4,407.0 L350.7,407.2 L350.0,407.5 L349.4,407.8 L348.9,408.2 L348.4,408.5 L347.9,409.0 L347.4,409.4 L347.0,409.9 L346.6,410.4 L346.2,411.0 L345.8,411.7 L345.5,412.4 L345.2,413.2 L345.0,414.0 L344.8,414.9 L344.6,415.9 L344.5,416.9 L344.3,418.0 L344.1,420.1 L344.0,422.6 L343.9,425.3 L343.9,428.2 L344.0,431.1 L344.0,434.2 L344.1,437.1 L344.1,440.0 L344.1,443.1 L344.1,446.4 L344.1,449.8 L344.1,453.1 L344.1,456.3 L344.1,459.2 L344.1,461.6 L344.1,463.5 L344.1,464.0 L344.1,464.4 L344.1,464.8 L344.1,465.1 L344.1,465.4 L344.1,465.7 L344.1,466.0 L344.1,466.5 L376.1,466.5Z"/>
<path stroke="#ffc800" d="M239.8,466.0 L239.8,465.7 L239.8,465.4 L239.8,465.1 L239.8,464.7 L239.8,464.4 L239.8,464.0 L239.8,463.5 L239.8,462.2 L239.8,460.5 L239.8,458.6 L239.8,456.6 L239.8,454.4 L239.8,452.2 L239.7,450.1 L239.7,448.0 L239.7,445.9 L239.6,443.8 L239.6,441.6 L239.5,439.4 L239.5,437.3 L239.4,435.2 L239.2,433.1 L239.0,431.2 L238.8,429.7 L238.6,428.3 L238.4,426.9 L238.2,425.6 L237.9,424.2 L237.6,422.9 L237.2,421.6 L236.7,420.3 L236.1,418.9 L235.5,417.3 L234.7,415.8 L233.9,414.3 L233.1,412.8 L232.3,411.5 L231.4,410.4 L230.5,409.5 L229.9,409.1 L229.3,408.7 L228.7,408.4 L228.0,408.2 L227.4,408.0 L226.7,407.8 L226.1,407.7 L225.5,407.5 L225.0,407.3 L224.4,407.2 L223.9,407.0 L223.3,406.9 L222.8,406.8 L222.3,406.7 L221.7,406.5 L221.2,406.4 L220.7,406.9 L220.2,407.3 L219.6,407.8 L219.1,408.2 L218.6,408.7 L218.1,409.1 L217.6,409.6 L217.0,410.0 L216.4,410.4 L215.8,410.8 L215.1,411.2 L214.5,411.6 L213.8,412.0 L213.2,412.4 L212.6,412.9 L212.0,413.5 L211.3,414.3 L210.7,415.2 L210.1,416.2 L209.6,417.2 L209.1,418.3 L208.6,419.5 L208.1,420.7 L207.7,422.0 L207.2,423.9 L206.7,425.9 L206.3,428.1 L206.0,430.4 L205.7,432.7 L205.4,435.2 L205.1,437.6 L204.9,440.0 L204.7,442.9 L204.5,446.2 L204.3,449.6 L204.2,453.0 L204.1,456.2 L204.0,459.1 L203.9,461.6 L203.9,463.5 L203.9,464.0 L203.9,464.4 L203.9,464.8 L203.9,465.1 L203.9,465.4 L203.9,465.7 L203.9,466.0 L203.9,466.5 L239.8,466.5 L239.8,466.0Z"/>
<path stroke="#ffc800" d="M463.5,465.5 L463.5,465.3 L463.5,465.0 L463.5,464.8 L463.5,464.5 L463.5,464.2 L463.5,463.9 L463.5,463.5 L463.5,462.0 L463.4,460.0 L463.4,457.6 L463.3,455.0 L463.2,452.3 L463.1,449.6 L462.9,447.1 L462.7,444.8 L462.5,443.1 L462.3,441.5 L462.1,439.9 L461.9,438.4 L461.6,436.9 L461.3,435.4 L461.0,433.9 L460.6,432.5 L460.2,431.2 L459.8,429.9 L459.4,428.6 L459.0,427.3 L458.5,426.1 L457.9,425.0 L457.3,423.9 L456.5,422.9 L455.6,422.0 L454.6,421.2 L453.5,420.5 L452.3,419.9 L451.1,419.3 L449.9,418.7 L448.7,418.1 L447.6,417.4 L447.0,417.6 L446.4,417.7 L445.8,417.8 L445.2,418.0 L444.6,418.1 L444.0,418.3 L443.4,418.5 L442.8,418.8 L442.1,419.2 L441.5,419.7 L440.8,420.2 L440.2,420.7 L439.5,421.3 L438.9,421.9 L438.4,422.4 L438.0,422.9 L437.8,423.2 L437.6,423.4 L437.4,423.6 L437.2,423.8 L437.1,424.1 L436.9,424.3 L436.8,424.6 L436.7,425.0 L436.5,426.2 L436.3,427.7 L436.3,429.5 L436.3,431.4 L436.3,433.5 L436.4,435.7 L436.4,437.9 L436.4,440.0 L436.4,442.9 L436.4,446.1 L436.4,449.5 L436.4,453.0 L436.4,456.3 L436.4,459.2 L436.4,461.7 L436.4,463.5 L436.4,463.9 L436.4,464.2 L436.4,464.5 L436.4,464.8 L436.4,465.0 L436.4,465.3 L436.4,465.5 L436.4,466.5 L463.5,466.5 L463.5,465.5Z"/>
<path stroke="#ff8a00" d="M231.4,466.5 L231.4,465.7 L231.4,465.5 L231.4,465.2 L231.4,464.9 L231.4,464.6 L231.4,464.3 L231.4,463.9 L231.4,463.5 L231.4,462.0 L231.4,460.0 L231.4,457.7 L231.4,455.2 L231.3,452.6 L231.3,449.9 L231.3,447.3 L231.2,445.0 L231.2,443.0 L231.1,441.0 L231.1,439.0 L231.1,437.0 L231.0,435.1 L230.9,433.2 L230.7,431.4 L230.5,429.6 L230.3,428.1 L230.0,426.7 L229.7,425.2 L229.4,423.8 L229.0,422.5 L228.5,421.2 L228.0,419.9 L227.4,418.8 L226.8,417.9 L226.1,417.0 L225.3,416.2 L224.5,415.5 L223.7,414.8 L222.8,414.1 L222.0,413.4 L221.2,412.6 L220.5,412.9 L219.9,413.2 L219.2,413.4 L218.5,413.7 L217.9,414.0 L217.2,414.3 L216.6,414.6 L216.0,415.0 L215.4,415.4 L214.9,415.9 L214.4,416.3 L213.9,416.8 L213.4,417.3 L212.9,417.9 L212.5,418.4 L212.0,419.0 L211.5,419.7 L211.0,420.4 L210.5,421.1 L210.0,421.9 L209.5,422.7 L209.1,423.6 L208.7,424.5 L208.3,425.5 L207.8,427.0 L207.4,428.6 L207.0,430.3 L206.6,432.1 L206.3,434.0 L206.0,436.0 L205.7,438.0 L205.5,440.0 L205.2,442.8 L205.0,446.0 L204.9,449.4 L204.8,452.9 L204.7,456.2 L204.7,459.2 L204.6,461.7 L204.6,463.5 L204.6,463.9 L204.6,464.3 L204.6,464.6 L204.6,464.9 L204.6,465.2 L204.6,465.5 L204.6,465.7 L204.6,466.5 L231.4,466.5Z"/>
<path stroke="#ff8a00" d="M370.6,465.7 L370.6,465.4 L370.6,465.2 L370.6,464.9 L370.6,464.6 L370.6,464.3 L370.6,463.9 L370.6,463.5 L370.6,462.0 L370.6,460.0 L370.7,457.7 L370.7,455.2 L370.7,452.5 L370.6,449.8 L370.5,447.2 L370.4,444.8 L370.2,442.7 L370.1,440.5 L369.9,438.3 L369.6,436.2 L369.3,434.1 L368.9,432.1 L368.5,430.2 L367.9,428.4 L367.3,427.0 L366.7,425.7 L366.0,424.5 L365.3,423.3 L364.5,422.1 L363.7,421.0 L362.8,420.0 L362.0,419.0 L361.2,418.2 L360.5,417.4 L359.7,416.7 L358.8,416.0 L358.0,415.3 L357.2,414.7 L356.3,414.0 L355.5,413.3 L354.9,413.7 L354.2,414.1 L353.6,414.5 L353.0,414.9 L352.4,415.3 L351.7,415.7 L351.1,416.1 L350.5,416.5 L349.9,416.8 L349.2,417.1 L348.6,417.4 L347.9,417.7 L347.3,418.0 L346.7,418.4 L346.1,418.9 L345.7,419.5 L345.1,421.1 L344.8,423.2 L344.8,425.7 L344.9,428.5 L345.1,431.4 L345.3,434.3 L345.5,437.2 L345.6,440.0 L345.6,443.0 L345.6,446.3 L345.6,449.7 L345.6,453.1 L345.6,456.4 L345.6,459.3 L345.6,461.7 L345.6,463.5 L345.6,463.9 L345.6,464.3 L345.6,464.6 L345.6,464.9 L345.6,465.2 L345.6,465.4 L345.6,465.7 L345.6,466.5 L370.6,466.5 L370.6,465.7Z"/>
<path stroke="#ff8a00" d="M458.5,465.2 L458.5,465.0 L458.5,464.8 L458.5,464.6 L458.5,464.4 L458.5,464.1 L458.5,463.9 L458.5,463.5 L458.5,461.7 L458.5,459.1 L458.6,455.9 L458.6,452.4 L458.6,448.7 L458.5,445.2 L458.3,442.0 L457.9,439.3 L457.6,437.8 L457.3,436.5 L457.0,435.2 L456.6,434.0 L456.2,432.8 L455.7,431.7 L455.1,430.7 L454.5,429.7 L453.8,428.9 L453.0,428.1 L452.2,427.4 L451.3,426.7 L450.3,426.1 L449.4,425.5 L448.5,424.9 L447.6,424.2 L447.0,424.3 L446.4,424.3 L445.7,424.3 L445.1,424.4 L444.5,424.4 L443.9,424.5 L443.3,424.7 L442.8,424.9 L442.3,425.2 L441.8,425.6 L441.3,426.1 L440.9,426.5 L440.5,427.0 L440.1,427.5 L439.8,428.0 L439.5,428.4 L439.4,428.6 L439.2,428.8 L439.1,428.9 L439.0,429.1 L438.9,429.3 L438.9,429.5 L438.8,429.7 L438.7,430.0 L438.5,431.1 L438.4,432.6 L438.4,434.4 L438.4,436.4 L438.4,438.6 L438.5,440.8 L438.5,442.9 L438.5,445.0 L438.5,447.3 L438.5,449.9 L438.4,452.6 L438.4,455.3 L438.4,457.9 L438.4,460.2 L438.4,462.1 L438.4,463.5 L438.4,463.8 L438.4,464.1 L438.4,464.4 L438.4,464.6 L438.4,464.8 L438.4,465.0 L438.4,465.2 L438.4,466.5 L458.5,466.5 L458.5,465.2Z"/>
<path stroke="#ff4400" d="M229.0,466.5 L229.0,465.4 L229.0,465.2 L229.0,465.0 L229.0,464.7 L229.0,464.5 L229.0,464.2 L229.0,463.9 L229.0,463.5 L229.0,462.3 L228.9,460.9 L228.8,459.2 L228.7,457.3 L228.6,455.4 L228.5,453.4 L228.3,451.5 L228.2,449.8 L228.1,448.3 L227.9,446.8 L227.8,445.3 L227.7,443.8 L227.5,442.4 L227.4,440.9 L227.2,439.5 L227.0,438.0 L226.8,436.5 L226.6,435.0 L226.5,433.5 L226.3,432.0 L226.1,430.6 L225.8,429.1 L225.5,427.8 L225.1,426.5 L224.7,425.5 L224.3,424.6 L223.8,423.7 L223.3,422.9 L222.8,422.0 L222.2,421.2 L221.7,420.4 L221.2,419.5 L220.5,419.9 L219.9,420.2 L219.2,420.6 L218.5,421.0 L217.9,421.3 L217.2,421.7 L216.6,422.1 L216.0,422.5 L215.5,422.9 L214.9,423.3 L214.4,423.7 L213.9,424.2 L213.4,424.6 L213.0,425.1 L212.5,425.5 L212.0,426.0 L211.5,426.5 L211.0,426.9 L210.5,427.3 L210.0,427.7 L209.5,428.2 L209.1,428.7 L208.7,429.3 L208.3,430.0 L207.8,431.4 L207.4,433.0 L207.1,434.8 L206.8,436.7 L206.7,438.8 L206.5,440.9 L206.4,443.0 L206.2,445.0 L206.0,447.3 L205.9,449.9 L205.8,452.6 L205.7,455.3 L205.6,457.8 L205.6,460.1 L205.5,462.0 L205.5,463.5 L205.5,463.9 L205.5,464.2 L205.5,464.5 L205.5,464.7 L205.5,465.0 L205.5,465.2 L205.5,465.4 L205.5,466.5 L229.0,466.5Z"/>
<path stroke="#ff4400" d="M363.5,465.3 L363.5,465.1 L363.5,464.9 L363.5,464.7 L363.5,464.4 L363.5,464.1 L363.5,463.8 L363.5,463.5 L363.5,462.5 L363.5,461.3 L363.5,459.8 L363.4,458.3 L363.4,456.6 L363.4,454.9 L363.4,453.2 L363.4,451.6 L363.4,449.6 L363.5,447.4 L363.6,445.2 L363.6,442.9 L363.7,440.7 L363.8,438.6 L363.8,436.7 L363.8,435.0 L363.8,434.2 L363.9,433.4 L363.9,432.7 L363.9,432.1 L364.0,431.5 L363.9,430.9 L363.8,430.3 L363.6,429.7 L363.3,429.1 L362.9,428.5 L362.4,428.0 L361.8,427.5 L361.2,427.0 L360.6,426.5 L360.0,426.0 L359.5,425.5 L359.0,425.0 L358.5,424.5 L358.0,424.0 L357.5,423.5 L357.0,423.0 L356.5,422.5 L356.0,422.0 L355.5,421.5 L354.9,421.8 L354.4,422.1 L353.8,422.4 L353.2,422.8 L352.7,423.1 L352.1,423.4 L351.5,423.7 L351.0,424.0 L350.5,424.3 L350.0,424.5 L349.4,424.7 L348.9,424.9 L348.4,425.1 L348.0,425.4 L347.5,425.8 L347.2,426.3 L346.8,427.4 L346.6,428.8 L346.5,430.4 L346.6,432.2 L346.8,434.1 L346.9,436.0 L347.1,438.0 L347.1,440.0 L347.1,442.8 L347.1,446.0 L347.1,449.5 L347.1,452.9 L347.1,456.3 L347.1,459.3 L347.1,461.7 L347.1,463.5 L347.1,463.9 L347.1,464.2 L347.1,464.5 L347.1,464.7 L347.1,464.9 L347.1,465.1 L347.1,465.4 L347.1,466.5 L363.5,466.5 L363.5,465.3Z"/>
<path stroke="#ff4400" d="M454.8,464.9 L454.8,464.8 L454.8,464.6 L454.8,464.4 L454.8,464.2 L454.8,464.0 L454.8,463.8 L454.8,463.5 L454.8,461.9 L454.9,459.6 L454.9,456.7 L454.9,453.5 L454.9,450.2 L454.9,447.1 L454.7,444.3 L454.5,442.0 L454.3,440.9 L454.1,440.0 L453.9,439.1 L453.7,438.2 L453.5,437.4 L453.2,436.6 L452.8,435.9 L452.4,435.2 L451.9,434.6 L451.4,434.0 L450.8,433.4 L450.2,432.9 L449.5,432.4 L448.9,431.9 L448.2,431.3 L447.6,430.8 L447.0,430.9 L446.3,431.0 L445.6,431.0 L445.0,431.1 L444.3,431.2 L443.8,431.3 L443.2,431.5 L442.8,431.8 L442.5,432.1 L442.3,432.5 L442.1,433.0 L442.0,433.5 L441.9,434.0 L441.8,434.5 L441.6,434.9 L441.5,435.2 L441.4,435.3 L441.3,435.4 L441.2,435.5 L441.1,435.6 L441.0,435.6 L441.0,435.7 L440.9,435.8 L440.8,436.0 L440.6,436.6 L440.6,437.5 L440.5,438.5 L440.5,439.7 L440.5,441.0 L440.6,442.3 L440.6,443.7 L440.6,445.0 L440.6,447.1 L440.6,449.6 L440.6,452.3 L440.6,455.1 L440.6,457.7 L440.6,460.1 L440.6,462.1 L440.6,463.5 L440.6,463.8 L440.6,464.0 L440.6,464.2 L440.6,464.4 L440.6,464.6 L440.6,464.8 L440.6,464.9 L440.6,466.5 L454.8,466.5 L454.8,464.9Z"/>
<path stroke="#ff0000" d="M207.0,466.5 L225.8,466.5 L225.8,465.0 L225.8,464.8 L225.8,464.6 L225.8,464.4 L225.8,464.3 L225.8,464.0 L225.8,463.8 L225.8,463.5 L225.8,462.4 L225.7,461.0 L225.7,459.3 L225.6,457.5 L225.5,455.5 L225.4,453.5 L225.3,451.6 L225.1,449.8 L224.9,448.0 L224.7,446.2 L224.4,444.3 L224.1,442.4 L223.8,440.6 L223.5,438.9 L223.2,437.3 L222.8,435.8 L222.6,434.8 L222.3,433.9 L222.1,433.0 L221.9,432.1 L221.6,431.3 L221.3,430.6 L220.9,430.0 L220.4,429.6 L219.9,429.3 L219.3,429.2 L218.6,429.2 L217.9,429.3 L217.2,429.4 L216.4,429.5 L215.7,429.6 L215.0,429.6 L214.2,429.6 L213.4,429.6 L212.5,429.5 L211.7,429.5 L210.9,429.4 L210.1,429.5 L209.5,429.6 L209.0,429.8 L208.8,430.0 L208.6,430.2 L208.4,430.4 L208.3,430.7 L208.3,431.0 L208.2,431.3 L208.1,431.6 L208.0,432.0 L207.8,433.1 L207.6,434.4 L207.5,436.0 L207.4,437.7 L207.4,439.5 L207.3,441.3 L207.3,443.2 L207.2,445.0 L207.1,447.3 L207.1,449.9 L207.1,452.6 L207.0,455.3 L207.0,457.9 L207.0,460.2 L207.0,462.1 L207.0,463.5 L207.0,463.8 L207.0,464.1 L207.0,464.3 L207.0,464.5 L207.0,464.6 L207.0,464.8 L207.0,465.0 L207.0,466.5Z"/>
<path stroke="#ff0000" d="M442.8,441.5 L447.6,439.8 L449.9,444.8 L449.8,451.6 L446.9,455.8 L442.6,454.6 L442.2,446 Z"/>
</g>
<path clip-path="url(#cp0)" d="M224.00,2.14 L588.00,145.51 L614.00,139.16 L717.50,96.73" fill="none" stroke="#484848" stroke-width="2" stroke-linejoin="round" stroke-linecap="round" stroke-dasharray="7.0 10.4" stroke-dashoffset="12.0"/>
<path clip-path="url(#cp1)" d="M224.00,159.14 L588.00,302.51 L614.00,296.16 L717.50,253.73" fill="none" stroke="#505050" stroke-width="2" stroke-linejoin="round" stroke-linecap="round" stroke-dasharray="7.0 10.4" stroke-dashoffset="12.0"/>
<path clip-path="url(#cp2)" d="M224.00,315.14 L588.00,458.51 L614.00,452.16 L717.50,409.73" fill="none" stroke="#888888" stroke-width="2" stroke-linejoin="round" stroke-linecap="round" stroke-dasharray="7.0 10.4" stroke-dashoffset="12.0"/>
<g stroke="#000" stroke-width="3" fill="none">
<rect x="65.5" y="1.5" width="652.0" height="149.0"/>
<line x1="195.9" y1="1.5" x2="195.9" y2="11.8"/>
<line x1="195.9" y1="150.5" x2="195.9" y2="140.2"/>
<line x1="326.3" y1="1.5" x2="326.3" y2="11.8"/>
<line x1="326.3" y1="150.5" x2="326.3" y2="140.2"/>
<line x1="456.7" y1="1.5" x2="456.7" y2="11.8"/>
<line x1="456.7" y1="150.5" x2="456.7" y2="140.2"/>
<line x1="587.1" y1="1.5" x2="587.1" y2="11.8"/>
<line x1="587.1" y1="150.5" x2="587.1" y2="140.2"/>
<line x1="65.5" y1="76.6" x2="74.1" y2="76.6"/>
<rect x="65.5" y="158.5" width="652.0" height="149.0"/>
<line x1="195.9" y1="158.5" x2="195.9" y2="168.8"/>
<line x1="195.9" y1="307.5" x2="195.9" y2="297.2"/>
<line x1="326.3" y1="158.5" x2="326.3" y2="168.8"/>
<line x1="326.3" y1="307.5" x2="326.3" y2="297.2"/>
<line x1="456.7" y1="158.5" x2="456.7" y2="168.8"/>
<line x1="456.7" y1="307.5" x2="456.7" y2="297.2"/>
<line x1="587.1" y1="158.5" x2="587.1" y2="168.8"/>
<line x1="587.1" y1="307.5" x2="587.1" y2="297.2"/>
<line x1="65.5" y1="233.6" x2="74.1" y2="233.6"/>
<rect x="65.5" y="314.5" width="652.0" height="149.0"/>
<line x1="195.9" y1="314.5" x2="195.9" y2="324.8"/>
<line x1="195.9" y1="463.5" x2="195.9" y2="450.0"/>
<line x1="326.3" y1="314.5" x2="326.3" y2="324.8"/>
<line x1="326.3" y1="463.5" x2="326.3" y2="450.0"/>
<line x1="456.7" y1="314.5" x2="456.7" y2="324.8"/>
<line x1="456.7" y1="463.5" x2="456.7" y2="450.0"/>
<line x1="587.1" y1="314.5" x2="587.1" y2="324.8"/>
<line x1="587.1" y1="463.5" x2="587.1" y2="450.0"/>
<line x1="130.7" y1="463.5" x2="130.7" y2="456.0"/>
<line x1="261.1" y1="463.5" x2="261.1" y2="456.0"/>
<line x1="391.5" y1="463.5" x2="391.5" y2="456.0"/>
<line x1="521.9" y1="463.5" x2="521.9" y2="456.0"/>
<line x1="652.3" y1="463.5" x2="652.3" y2="456.0"/>
<line x1="65.5" y1="389.6" x2="74.1" y2="389.6"/>
</g>
<g font-family="Liberation Sans, Arial, Helvetica, sans-serif" font-size="33" fill="#000" stroke="#000" stroke-width="0.25">
<text x="74.6" y="39.4" letter-spacing="1">(a)</text>
<text x="77.7" y="193.9" letter-spacing="1">(b)</text>
<text x="76.9" y="350.3" letter-spacing="1">(c)</text>
<text transform="translate(54,324.8) scale(1,1.065)" text-anchor="end">4</text>
<text transform="translate(54,400.2) scale(1,1.065)" text-anchor="end">2</text>
<text transform="translate(54,474.4) scale(1,1.065)" text-anchor="end">0</text>
<text transform="translate(65.5,504.6) scale(1,1.065)" text-anchor="middle">-80</text>
<text transform="translate(195.9,504.6) scale(1,1.065)" text-anchor="middle">-60</text>
<text transform="translate(326.3,504.6) scale(1,1.065)" text-anchor="middle">-40</text>
<text transform="translate(456.7,504.6) scale(1,1.065)" text-anchor="middle">-20</text>
<text transform="translate(587.1,504.6) scale(1,1.065)" text-anchor="middle">0</text>
<text transform="translate(717.5,504.6) scale(1,1.065)" text-anchor="middle">20</text>
<text x="392.5" y="541" text-anchor="middle"><tspan font-style="italic">z</tspan> [mm]</text>
<text transform="translate(24,389) rotate(-90)" text-anchor="middle"><tspan font-style="italic">r</tspan> [mm]</text>
</g>
<rect x="746.3" y="419.05" width="24.8" height="32.65" fill="#48007c"/>
<rect x="746.3" y="386.70" width="24.8" height="32.65" fill="#26007f"/>
<rect x="746.3" y="354.35" width="24.8" height="32.65" fill="#00008f"/>
<rect x="746.3" y="322.00" width="24.8" height="32.65" fill="#0000d0"/>
<rect x="746.3" y="289.65" width="24.8" height="32.65" fill="#0a32d2"/>
<rect x="746.3" y="257.30" width="24.8" height="32.65" fill="#0f8442"/>
<rect x="746.3" y="224.95" width="24.8" height="32.65" fill="#3fc81c"/>
<rect x="746.3" y="192.60" width="24.8" height="32.65" fill="#d0ea00"/>
<rect x="746.3" y="160.25" width="24.8" height="32.65" fill="#ffc800"/>
<rect x="746.3" y="127.90" width="24.8" height="32.65" fill="#ff8a00"/>
<rect x="746.3" y="95.55" width="24.8" height="32.65" fill="#ff4400"/>
<rect x="746.3" y="63.20" width="24.8" height="32.65" fill="#ff0000"/>
<rect x="746.3" y="63.2" width="24.8" height="388.2" fill="none" stroke="#555" stroke-width="2"/>
<g stroke="#555" stroke-width="1.8">
<line x1="771.1" y1="451.40" x2="777.6" y2="451.40"/>
<line x1="771.1" y1="386.70" x2="777.6" y2="386.70"/>
<line x1="771.1" y1="322.00" x2="777.6" y2="322.00"/>
<line x1="771.1" y1="257.30" x2="777.6" y2="257.30"/>
<line x1="771.1" y1="192.60" x2="777.6" y2="192.60"/>
<line x1="771.1" y1="127.90" x2="777.6" y2="127.90"/>
<line x1="771.1" y1="63.20" x2="777.6" y2="63.20"/>
</g>
<g font-family="Liberation Sans, Arial, Helvetica, sans-serif" font-size="26" fill="#000" stroke="#000" stroke-width="0.2">
<text transform="translate(785.5,461.4) scale(1,1.04)">5</text>
<text transform="translate(785.5,396.7) scale(1,1.04)">6</text>
<text transform="translate(785.5,332.0) scale(1,1.04)">7</text>
<text transform="translate(785.5,267.3) scale(1,1.04)">8</text>
<text transform="translate(785.5,202.6) scale(1,1.04)">9</text>
<text transform="translate(785.5,137.9) scale(1,1.04)">10</text>
<text transform="translate(785.5,73.2) scale(1,1.04)">11</text>
<text transform="translate(727.6,26.1) scale(0.98,1.0)"><tspan font-style="italic">T</tspan> [10<tspan font-size="17" dy="-11.6">3</tspan><tspan dy="11.6"> K]</tspan></text>
</g>
</svg>
</body></html>
